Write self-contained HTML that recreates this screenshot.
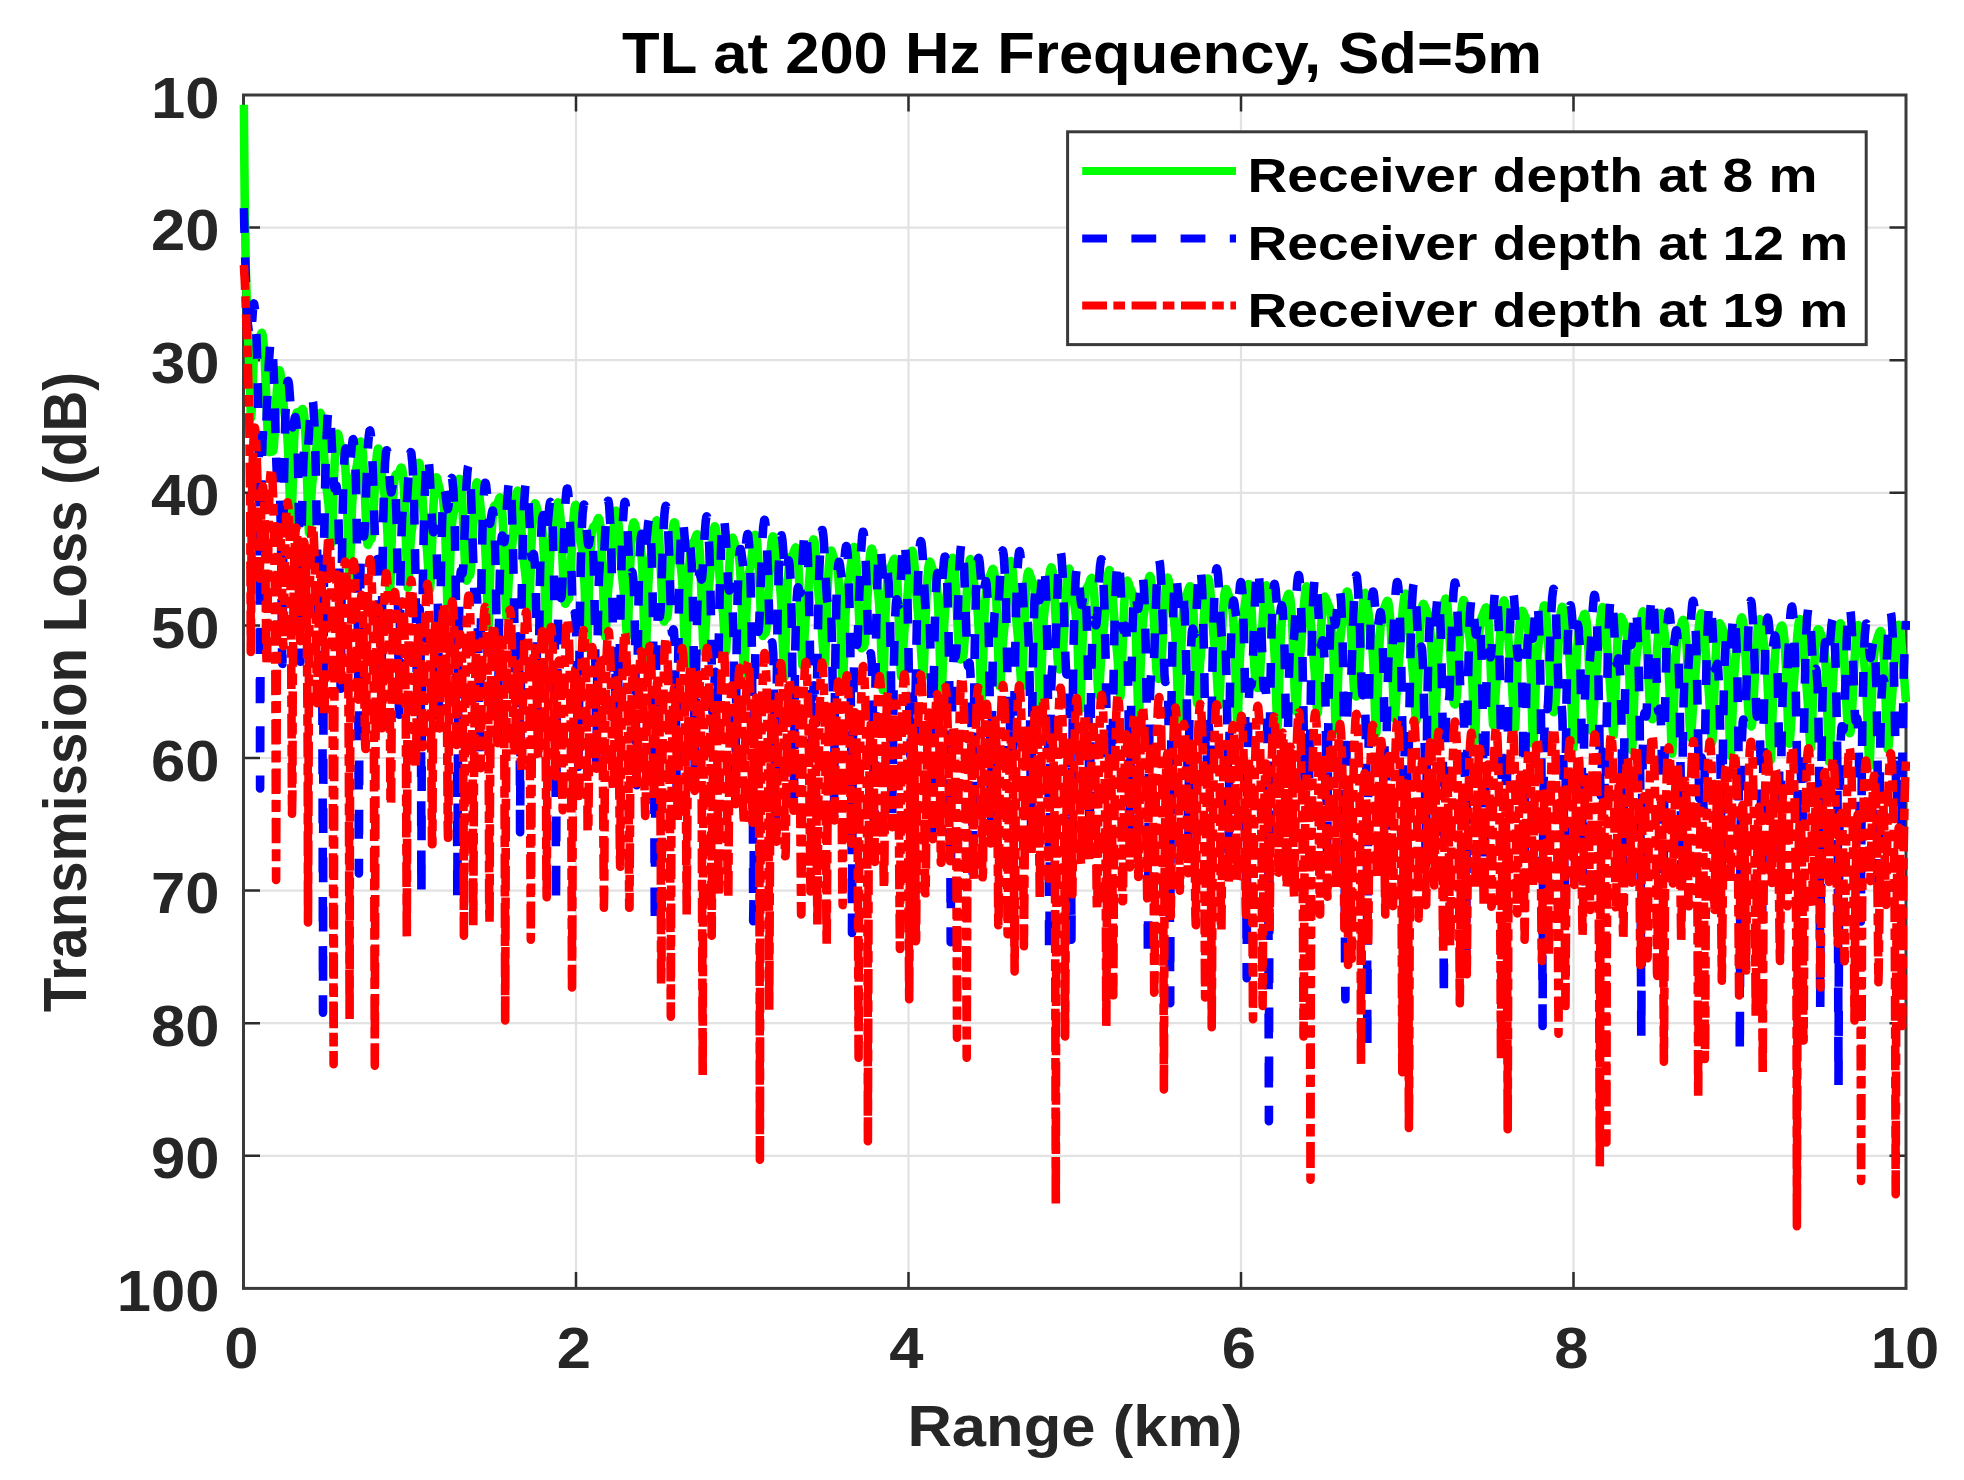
<!DOCTYPE html>
<html lang="en"><head><meta charset="utf-8"><title>TL at 200 Hz Frequency, Sd=5m</title>
<style>html,body{margin:0;padding:0;background:#fff}svg{display:block}</style></head>
<body>
<svg width="1964" height="1480" viewBox="0 0 1964 1480" font-family="'Liberation Sans', Arial, Helvetica, sans-serif" font-weight="bold">
<rect width="1964" height="1480" fill="#fff"/>
<path d="M576.00 95.0V1288.4M908.50 95.0V1288.4M1241.00 95.0V1288.4M1573.50 95.0V1288.4M243.5 227.60H1906.0M243.5 360.20H1906.0M243.5 492.80H1906.0M243.5 625.40H1906.0M243.5 758.00H1906.0M243.5 890.60H1906.0M243.5 1023.20H1906.0M243.5 1155.80H1906.0" stroke="#e2e2e2" stroke-width="2.2" fill="none"/>
<clipPath id="c"><rect x="239.3" y="95.0" width="1670.7" height="1193.4"/></clipPath>
<path d="M576.00 95.0v16.5M576.00 1288.4v-16.5M908.50 95.0v16.5M908.50 1288.4v-16.5M1241.00 95.0v16.5M1241.00 1288.4v-16.5M1573.50 95.0v16.5M1573.50 1288.4v-16.5M243.5 227.60h16.5M1906.0 227.60h-16.5M243.5 360.20h16.5M1906.0 360.20h-16.5M243.5 492.80h16.5M1906.0 492.80h-16.5M243.5 625.40h16.5M1906.0 625.40h-16.5M243.5 758.00h16.5M1906.0 758.00h-16.5M243.5 890.60h16.5M1906.0 890.60h-16.5M243.5 1023.20h16.5M1906.0 1023.20h-16.5M243.5 1155.80h16.5M1906.0 1155.80h-16.5" stroke="#2c2c2c" stroke-width="2.5" fill="none"/>
<rect x="243.5" y="95.0" width="1662.5" height="1193.4" fill="none" stroke="#3a3a3a" stroke-width="3"/>
<g clip-path="url(#c)" fill="none" stroke-width="8.6" stroke-linejoin="round">
<path stroke="#00ff00" d="M243.8 104.7L244.8 208.6L245.8 267.6L246.8 303.7L248.8 353.7L250.8 416.0L251.1 417.5L251.5 413.9L253.5 364.0L254.5 351.2L254.8 349.0L255.5 346.8L255.8 346.4L256.1 346.5L257.5 347.2L258.1 346.4L258.8 344.1L260.8 334.5L261.5 333.0L261.8 332.9L262.1 333.4L262.8 336.1L263.4 341.4L264.8 360.7L267.8 436.0L268.4 447.4L269.1 451.9L269.4 452.1L270.4 449.8L271.1 448.9L271.8 449.6L272.4 451.0L272.8 451.3L273.1 451.0L273.8 447.0L274.4 438.0L276.4 398.3L277.7 378.9L278.7 371.6L279.4 370.2L279.7 370.5L280.1 371.4L281.4 380.7L284.1 410.5L286.4 427.0L287.4 436.9L288.7 461.9L290.4 515.4L291.0 528.0L291.4 525.8L291.7 518.2L294.0 441.9L295.0 424.3L295.7 417.4L296.4 413.6L296.7 412.6L297.0 412.2L297.4 412.2L299.0 414.4L299.7 414.5L300.4 413.5L302.0 409.4L302.4 409.1L302.7 409.1L303.4 410.5L303.7 412.1L304.3 417.4L305.3 431.4L306.0 445.3L308.3 519.5L309.0 532.7L309.3 533.3L310.0 524.4L311.3 496.5L312.3 482.7L313.0 477.2L314.7 467.2L315.3 461.2L318.6 419.6L319.6 413.7L320.0 413.0L320.3 412.9L320.6 413.5L321.3 416.6L322.3 426.0L325.6 478.9L326.3 486.2L328.6 504.9L330.6 537.3L331.3 543.5L331.6 542.3L332.3 530.4L333.9 480.8L334.9 457.7L335.9 442.8L336.6 437.0L337.3 434.2L337.6 433.7L337.9 433.8L338.3 434.5L341.3 448.8L341.9 450.7L343.2 452.8L343.9 454.8L344.6 458.5L345.2 464.9L346.6 488.6L348.9 569.3L349.2 576.7L349.6 577.9L350.2 563.2L351.9 509.1L353.2 485.3L354.2 476.8L356.2 468.9L356.9 465.4L359.9 443.7L360.5 441.6L360.9 441.5L361.5 443.0L362.2 447.1L362.9 454.2L364.2 477.1L366.5 532.7L367.2 542.1L367.5 544.2L367.9 544.9L368.2 544.5L369.2 541.0L369.9 539.5L370.2 539.3L371.2 539.4L371.5 538.9L372.2 535.1L373.2 520.5L375.2 478.1L376.2 462.0L377.2 452.2L377.8 449.1L378.2 448.5L378.5 448.6L379.2 450.6L379.8 454.7L382.8 483.9L385.1 498.4L386.1 508.3L387.5 533.9L389.1 586.0L389.5 592.9L389.8 594.6L390.5 581.0L392.5 512.4L393.1 497.6L394.1 483.2L394.8 477.9L395.5 475.2L396.1 474.3L397.8 474.9L398.4 474.3L400.4 468.7L401.1 467.5L401.4 467.5L401.8 468.0L402.1 469.1L402.8 473.1L404.1 490.4L405.4 522.7L407.1 577.0L407.8 587.8L408.1 587.2L408.4 583.3L410.1 549.5L411.1 535.9L413.7 515.3L417.1 472.1L418.1 464.7L418.7 462.8L419.1 462.8L419.4 463.5L420.1 466.7L421.1 476.1L424.4 527.0L427.0 549.4L429.4 585.3L429.7 588.6L430.0 589.3L430.7 580.9L433.4 506.8L434.4 489.8L435.4 480.4L436.0 477.7L436.3 477.3L436.7 477.4L437.0 478.0L439.7 489.8L440.3 491.8L442.0 494.4L443.0 498.3L444.3 512.1L445.3 532.2L447.3 601.7L448.0 617.4L448.3 616.6L448.7 609.9L450.6 546.7L452.0 523.8L453.0 515.5L455.0 506.5L455.6 502.5L458.3 482.1L459.0 479.4L459.3 478.8L459.6 478.8L460.3 480.6L461.0 485.1L462.0 497.2L465.3 569.9L465.9 578.3L466.3 580.1L466.6 580.6L466.9 580.2L468.3 576.3L468.6 575.8L469.6 575.6L469.9 575.2L470.6 572.2L471.6 559.3L473.6 516.7L474.9 494.9L475.6 488.0L476.2 483.9L476.9 482.4L477.2 482.6L477.9 484.8L478.9 491.7L481.6 517.0L483.9 531.6L484.9 542.3L485.9 560.9L487.6 611.6L488.2 625.9L488.6 625.5L488.9 619.3L490.5 560.3L491.5 533.9L492.9 513.7L493.5 508.7L494.2 506.1L494.9 505.2L496.2 505.3L496.9 504.8L497.5 503.4L499.2 498.3L499.9 497.4L500.2 497.6L500.5 498.2L500.9 499.5L501.5 503.9L502.5 516.3L503.2 529.0L505.8 608.2L506.5 616.8L506.8 615.3L507.2 610.8L508.5 583.5L509.5 568.2L512.5 542.5L515.5 502.4L516.8 492.2L517.5 490.7L517.8 490.8L518.1 491.7L518.8 495.2L519.8 504.9L522.8 550.7L523.8 561.4L525.8 577.9L527.8 609.4L528.5 616.2L528.8 615.6L529.5 604.9L531.4 546.2L532.4 524.7L533.8 508.3L534.4 504.6L534.8 503.7L535.1 503.4L535.4 503.6L536.4 506.5L538.4 515.3L539.1 517.0L540.4 519.0L541.1 520.8L542.1 526.7L542.8 534.1L544.1 560.2L546.1 629.8L546.7 642.2L547.1 639.6L547.4 631.7L549.1 577.7L550.4 551.7L551.4 541.7L553.7 529.8L556.4 509.4L557.0 505.3L557.7 502.9L558.0 502.5L558.4 502.7L559.0 504.9L560.4 517.5L561.7 541.3L564.0 594.1L564.7 601.8L565.0 603.4L565.4 603.8L567.0 600.2L568.4 599.4L568.7 598.7L569.4 594.6L570.3 580.0L572.3 537.2L573.7 516.3L574.3 509.8L575.0 506.1L575.3 505.2L575.7 505.0L576.0 505.3L576.7 507.7L577.7 514.8L580.0 536.7L582.3 551.7L583.3 561.3L584.6 585.7L586.3 636.8L587.0 648.0L587.3 645.6L587.6 637.8L589.3 578.9L590.3 553.6L591.6 534.5L592.3 529.8L593.0 527.3L593.6 526.4L595.0 526.0L595.6 525.2L597.6 519.5L598.3 518.2L598.6 518.1L599.3 519.3L599.6 520.8L600.3 525.7L601.3 538.8L601.9 552.0L604.3 622.0L604.9 635.4L605.3 636.8L605.9 629.7L607.9 592.4L608.6 584.7L610.9 564.9L614.2 521.1L614.9 515.3L615.6 511.7L615.9 510.8L616.2 510.6L616.9 511.9L617.6 515.8L618.6 525.9L621.6 570.8L624.5 599.0L626.5 631.1L626.9 634.8L627.2 636.0L627.5 634.2L628.2 621.3L629.9 571.4L631.2 542.2L632.5 526.7L633.2 523.4L633.5 522.6L633.9 522.4L634.2 522.7L634.9 524.4L637.2 533.8L639.2 537.5L639.8 539.6L640.5 543.4L641.2 549.8L642.5 573.1L644.8 651.0L645.2 658.3L645.5 660.0L646.2 646.9L647.8 594.0L649.1 569.2L650.1 559.6L652.5 547.0L655.1 526.3L656.1 521.3L656.5 520.5L656.8 520.3L657.5 521.7L658.1 525.6L659.1 536.7L660.1 554.0L662.5 607.0L663.1 616.8L663.4 619.6L663.8 621.1L664.1 621.5L665.8 618.5L666.8 618.0L667.1 617.5L667.8 614.3L668.8 601.4L671.1 552.3L672.4 532.3L673.1 526.4L673.8 523.0L674.1 522.3L674.4 522.3L674.8 522.8L675.4 525.4L676.4 532.6L678.7 553.8L681.1 569.1L682.1 579.6L683.4 605.5L685.1 656.6L685.4 663.1L685.7 664.5L686.4 651.1L688.1 592.6L689.0 568.5L690.4 550.5L691.0 546.0L691.7 543.7L692.4 542.8L693.4 542.3L694.0 541.5L696.4 535.1L697.0 534.2L697.4 534.2L697.7 534.8L698.0 535.9L698.7 539.9L699.7 551.4L700.4 563.2L703.0 640.2L703.7 651.8L704.0 652.2L704.7 644.1L706.7 607.9L709.7 579.5L712.7 539.2L714.0 528.4L714.7 526.4L715.0 526.4L715.3 526.9L716.0 529.9L717.0 538.7L720.3 586.9L723.0 612.2L725.3 648.5L725.6 651.4L726.0 651.4L726.6 642.1L728.6 583.8L729.9 556.0L731.3 541.4L731.9 538.4L732.3 537.8L732.6 537.7L732.9 538.1L733.6 539.8L735.6 547.6L738.3 553.4L739.3 559.1L739.9 566.1L740.9 583.0L741.6 599.6L743.2 658.2L743.9 673.9L744.2 673.8L744.6 668.1L746.6 606.8L747.9 583.2L748.9 573.9L751.2 560.6L753.9 539.9L754.9 535.4L755.2 534.8L755.5 534.8L756.2 536.6L756.9 541.0L757.9 552.6L758.9 570.3L761.2 622.4L761.9 631.7L762.2 634.2L762.5 635.5L762.9 635.9L764.2 634.0L765.5 633.0L766.2 630.6L766.5 628.0L767.5 613.5L769.5 570.7L770.8 549.1L771.5 542.3L772.5 536.9L772.8 536.4L773.2 536.5L774.2 539.9L777.5 567.9L779.8 583.7L780.8 595.1L781.8 614.1L783.5 664.2L784.1 677.9L784.5 677.4L784.8 671.4L786.5 613.6L787.8 580.7L789.1 563.6L789.8 559.4L790.5 557.2L792.8 554.5L794.8 548.9L795.5 547.6L795.8 547.4L796.4 548.4L796.8 549.7L797.4 554.2L798.4 566.5L799.1 578.8L801.8 655.4L802.4 665.2L802.8 664.8L803.1 661.4L805.4 620.7L808.4 591.3L811.4 551.0L812.7 541.0L813.4 539.5L813.7 539.6L814.1 540.4L814.7 543.6L815.7 552.8L818.7 596.3L821.7 626.8L823.7 659.1L824.4 665.1L824.7 663.9L825.4 652.4L827.4 594.0L828.7 567.4L830.0 553.8L830.7 551.1L831.0 550.6L831.4 550.6L831.7 551.0L834.4 560.1L836.3 564.1L837.0 566.2L837.7 569.9L838.3 575.9L839.3 591.0L840.0 606.1L842.0 673.8L842.7 686.7L843.0 684.8L843.3 677.9L845.3 617.5L846.7 595.0L847.7 585.9L850.0 571.9L852.3 553.4L853.3 548.2L854.0 547.0L854.3 547.2L854.6 548.0L855.3 551.5L856.3 561.6L857.6 584.5L860.0 635.7L860.6 644.3L861.0 646.7L861.3 647.9L861.6 648.3L863.9 646.4L864.6 644.5L864.9 642.5L865.9 629.7L868.3 580.6L869.6 560.0L870.3 553.6L870.9 549.8L871.6 548.5L871.9 548.7L872.6 550.7L873.6 557.1L875.9 577.5L878.2 593.5L879.2 603.8L880.6 628.8L882.2 679.3L882.9 690.2L883.2 687.8L883.6 680.3L885.2 622.5L886.2 597.2L887.2 581.3L887.9 574.8L888.5 570.9L889.5 568.2L890.9 566.7L891.5 565.5L893.5 559.9L894.2 558.9L894.5 558.9L894.9 559.3L895.2 560.3L895.9 564.0L896.9 574.6L897.9 592.6L900.2 660.3L900.9 674.3L901.2 676.6L901.5 675.4L901.9 671.6L904.2 631.8L906.8 605.3L909.8 564.7L911.2 553.5L911.8 551.1L912.2 550.8L912.5 551.2L913.2 553.6L914.5 565.2L917.5 608.2L920.1 635.6L922.5 672.5L922.8 675.9L923.1 676.6L923.5 674.2L924.1 660.7L926.5 595.0L927.5 577.2L928.5 566.6L929.4 562.1L929.8 561.7L930.1 561.8L930.4 562.3L932.8 570.0L935.1 575.0L935.8 577.4L936.4 581.5L937.1 588.1L938.1 604.2L939.1 629.5L940.8 687.6L941.1 695.1L941.4 697.3L942.1 686.0L944.1 626.8L945.4 605.2L946.4 596.4L948.4 584.0L951.1 563.3L952.1 558.5L952.4 557.9L952.7 557.7L953.4 559.1L954.1 563.0L955.0 573.7L956.0 590.4L958.7 647.4L959.4 655.5L959.7 657.7L960.4 659.4L960.7 659.3L962.4 658.2L962.7 657.8L963.4 655.3L963.7 652.7L964.7 638.3L967.0 589.1L968.4 569.4L969.0 563.5L969.7 560.1L970.0 559.3L970.3 559.1L970.7 559.5L971.3 561.8L972.3 568.3L974.7 588.2L976.7 601.9L978.0 615.8L979.3 642.3L981.0 692.8L981.3 699.1L981.7 700.4L982.3 687.5L984.6 612.9L986.0 590.9L986.6 584.7L987.3 581.0L988.0 578.9L990.3 575.2L992.0 570.3L992.6 569.1L993.0 568.9L993.3 569.0L993.6 569.7L994.6 575.0L995.6 586.4L996.3 598.0L998.9 672.7L999.6 685.1L999.9 686.5L1000.6 680.5L1002.6 645.8L1005.6 614.0L1008.6 573.5L1009.9 563.0L1010.6 561.1L1010.9 561.0L1011.2 561.5L1011.9 564.3L1013.2 576.4L1016.2 618.9L1018.9 647.2L1020.9 680.0L1021.5 686.9L1021.9 686.5L1022.5 676.4L1025.2 602.8L1026.2 585.9L1027.2 576.0L1028.2 572.0L1028.5 571.7L1029.2 572.3L1031.5 579.6L1033.9 584.8L1034.5 587.5L1035.8 599.3L1036.8 616.3L1037.8 642.6L1039.5 699.8L1039.8 705.8L1040.2 706.4L1040.8 692.9L1042.5 642.5L1043.8 618.3L1044.8 608.1L1047.2 592.7L1049.5 574.2L1050.5 568.8L1051.1 567.3L1051.5 567.4L1051.8 568.0L1052.5 571.0L1053.5 580.4L1054.8 601.8L1057.5 657.9L1058.5 667.7L1058.8 668.9L1059.5 669.5L1060.8 669.0L1061.5 668.0L1062.4 661.5L1063.4 645.7L1065.8 596.6L1067.4 574.8L1068.1 570.6L1068.8 568.8L1069.1 568.7L1069.4 569.3L1070.1 571.7L1075.4 611.8L1076.4 622.2L1077.7 646.3L1079.4 696.2L1080.1 709.5L1080.4 709.1L1080.7 703.2L1082.4 646.7L1083.4 620.4L1084.4 603.4L1085.7 591.6L1086.7 588.0L1088.7 584.6L1090.7 579.0L1091.4 578.0L1091.7 577.9L1092.0 578.3L1092.4 579.2L1093.4 585.1L1094.4 597.3L1095.0 609.4L1097.7 683.9L1098.4 694.7L1098.7 695.3L1099.4 688.4L1101.3 654.5L1104.0 625.9L1107.0 585.0L1108.3 573.3L1109.0 570.6L1109.3 570.1L1109.7 570.3L1110.3 572.2L1111.7 582.7L1115.0 628.6L1117.6 658.0L1119.6 691.4L1120.3 696.6L1120.6 695.0L1121.3 682.8L1124.0 609.8L1124.6 598.3L1125.6 586.9L1126.6 581.6L1127.0 580.9L1127.3 580.7L1127.6 580.9L1128.3 582.2L1130.3 588.4L1132.3 592.7L1132.9 595.1L1134.3 605.4L1135.6 627.6L1137.9 701.9L1138.6 715.2L1138.9 714.1L1139.3 708.1L1141.2 649.6L1142.6 626.4L1143.6 616.4L1145.6 602.8L1148.2 582.0L1149.2 577.1L1149.9 576.0L1150.6 577.1L1151.2 580.5L1152.2 590.4L1153.6 612.4L1156.2 667.6L1157.2 676.9L1157.5 678.1L1158.2 678.9L1159.5 678.6L1160.2 677.2L1161.2 669.3L1164.2 609.3L1165.9 585.6L1166.5 580.5L1167.2 577.9L1167.5 577.5L1167.8 577.6L1168.8 580.9L1173.8 618.3L1175.2 632.2L1176.5 657.8L1178.2 708.0L1178.8 718.6L1179.2 716.3L1179.5 709.1L1181.2 652.3L1182.1 627.2L1183.1 611.0L1184.5 599.8L1185.5 596.3L1187.1 593.2L1189.1 587.7L1189.8 586.4L1190.1 586.2L1190.5 586.3L1190.8 586.8L1191.8 591.7L1192.8 602.4L1193.5 613.3L1194.5 636.0L1196.4 694.1L1197.1 703.3L1197.4 703.2L1198.1 695.6L1200.1 662.5L1202.8 632.9L1205.4 595.9L1206.8 583.0L1207.4 579.7L1208.1 578.5L1208.4 578.8L1209.1 581.1L1210.4 592.1L1213.4 633.4L1216.1 663.5L1218.4 701.8L1218.7 704.8L1219.1 705.2L1219.4 702.4L1220.1 688.3L1222.4 623.0L1223.4 605.3L1224.4 594.6L1225.4 589.7L1225.7 589.1L1226.0 589.0L1226.4 589.3L1227.0 590.6L1229.0 596.4L1230.7 599.9L1231.7 603.5L1233.0 614.8L1234.0 631.0L1235.0 656.0L1236.7 712.9L1237.0 720.5L1237.3 723.4L1237.7 720.8L1238.0 713.8L1240.0 656.1L1241.3 633.8L1242.3 624.1L1246.7 591.4L1247.7 585.8L1248.3 584.2L1248.6 584.1L1249.3 585.5L1250.0 589.4L1251.3 604.5L1254.3 665.5L1255.3 680.5L1256.0 685.4L1256.6 687.3L1257.3 687.9L1258.0 687.9L1258.3 687.6L1259.0 685.6L1260.0 676.2L1262.9 615.3L1264.6 592.7L1265.3 588.0L1265.9 585.8L1266.3 585.5L1266.6 585.8L1267.6 589.3L1272.6 626.8L1273.6 637.1L1274.9 660.5L1276.9 718.9L1277.2 725.1L1277.6 726.4L1278.2 714.0L1280.6 640.4L1281.9 618.0L1283.2 607.4L1284.2 603.9L1285.9 600.5L1287.9 594.9L1288.5 593.9L1288.9 593.8L1289.2 594.1L1289.5 594.8L1290.5 600.3L1291.5 611.7L1292.2 623.1L1294.9 695.7L1295.5 708.9L1295.9 711.2L1296.2 710.5L1296.5 707.2L1298.5 674.3L1301.2 643.5L1304.2 602.2L1305.5 590.1L1306.2 587.1L1306.5 586.4L1306.8 586.3L1307.5 587.8L1308.2 591.5L1309.5 604.8L1312.2 641.9L1314.8 672.9L1316.8 707.1L1317.5 713.5L1317.8 712.7L1318.5 701.9L1321.1 628.6L1321.8 616.5L1322.8 604.4L1323.8 598.2L1324.1 597.3L1324.5 596.8L1324.8 596.7L1325.8 598.3L1327.5 603.0L1329.4 607.4L1330.1 609.8L1331.4 619.7L1332.8 640.8L1333.8 666.8L1335.4 723.0L1335.8 729.3L1336.1 730.6L1336.8 718.8L1338.4 669.7L1339.8 644.8L1341.1 631.1L1345.1 600.3L1346.1 594.2L1346.7 591.9L1347.1 591.5L1347.4 591.6L1347.7 592.3L1348.4 595.3L1349.7 608.7L1351.1 631.6L1353.1 674.3L1354.0 688.8L1355.0 694.8L1355.7 696.0L1356.4 696.4L1357.0 695.9L1357.4 695.0L1358.4 687.1L1361.7 620.9L1363.0 602.4L1363.7 596.9L1364.4 593.8L1364.7 593.2L1365.0 593.0L1365.4 593.4L1366.0 595.6L1367.0 601.6L1371.0 632.0L1372.3 645.8L1373.7 670.7L1375.3 720.4L1376.0 733.6L1376.3 733.2L1376.7 727.6L1378.7 662.3L1379.7 639.2L1380.7 624.5L1382.0 614.4L1382.6 611.9L1384.6 607.2L1386.3 602.5L1387.3 600.9L1387.6 601.0L1388.0 601.4L1388.3 602.4L1389.3 608.5L1390.3 620.6L1391.0 632.5L1393.6 705.1L1394.3 716.9L1394.6 718.5L1394.9 717.1L1395.3 713.5L1397.3 681.0L1399.9 649.4L1402.9 608.1L1404.3 596.7L1404.9 594.1L1405.3 593.6L1405.6 593.7L1405.9 594.3L1406.6 597.2L1407.9 609.1L1410.9 649.8L1413.2 677.3L1415.6 716.6L1415.9 720.2L1416.2 721.3L1416.6 719.3L1417.2 706.5L1419.9 633.8L1420.5 622.4L1421.5 610.8L1422.5 605.2L1422.9 604.3L1423.2 603.9L1423.5 603.9L1424.2 604.8L1427.9 613.6L1428.9 617.2L1430.2 628.0L1431.5 650.3L1433.8 723.3L1434.5 737.1L1434.8 736.9L1435.2 731.8L1437.2 675.0L1438.8 647.0L1439.8 637.5L1443.8 606.3L1444.8 600.6L1445.5 598.7L1445.8 598.5L1446.5 599.6L1447.2 603.0L1448.5 617.1L1452.5 692.9L1453.5 701.3L1454.1 703.4L1454.5 704.0L1455.1 704.4L1455.8 703.6L1456.1 702.4L1457.1 693.1L1460.1 631.9L1461.4 611.9L1462.1 605.6L1463.1 600.7L1463.4 600.1L1463.8 600.2L1464.8 603.0L1465.8 609.1L1469.8 639.5L1471.1 654.3L1472.1 672.6L1474.1 730.6L1474.7 741.1L1475.1 739.0L1475.4 732.0L1477.1 676.2L1478.1 651.0L1479.4 630.7L1480.7 621.0L1481.7 617.6L1485.1 608.8L1485.7 607.7L1486.1 607.5L1486.4 607.8L1486.7 608.4L1487.7 613.5L1488.7 624.1L1489.7 641.4L1492.4 713.9L1493.0 724.3L1493.4 725.2L1494.0 719.5L1496.0 687.3L1498.4 659.2L1501.3 617.4L1502.7 604.9L1503.3 601.6L1504.0 600.4L1504.7 601.5L1505.3 604.7L1506.7 616.9L1512.0 685.7L1514.0 720.7L1514.6 728.3L1515.0 728.3L1515.6 718.9L1517.6 661.3L1518.6 638.8L1519.3 627.8L1520.3 617.0L1521.3 611.7L1521.6 611.0L1522.0 610.7L1522.3 610.7L1523.0 611.6L1526.3 619.3L1527.3 622.6L1528.6 632.1L1529.9 652.2L1530.9 677.0L1532.6 732.8L1533.3 744.1L1533.6 742.5L1533.9 736.3L1535.9 680.0L1537.3 657.0L1538.6 643.6L1542.6 612.0L1543.6 606.7L1544.2 605.2L1544.6 605.2L1545.2 606.7L1545.9 610.5L1547.2 625.2L1551.2 700.4L1552.2 708.7L1552.9 711.0L1553.5 712.0L1553.9 712.1L1554.2 711.8L1554.9 709.3L1555.9 698.4L1558.9 636.6L1560.2 617.4L1560.9 611.5L1561.9 607.1L1562.2 606.8L1562.5 606.9L1563.5 610.0L1568.2 643.9L1569.5 657.7L1570.8 681.8L1572.8 740.1L1573.2 746.2L1573.5 747.7L1574.2 735.7L1575.8 680.1L1576.8 655.9L1578.2 636.5L1579.5 627.2L1580.5 623.7L1584.1 614.2L1584.8 613.9L1585.5 615.1L1586.5 620.8L1587.5 632.1L1588.5 650.1L1591.1 722.1L1591.8 731.2L1592.1 731.4L1592.8 725.0L1594.8 693.3L1597.1 664.4L1600.1 622.5L1601.4 610.7L1602.1 607.7L1602.4 607.1L1602.8 607.0L1603.4 608.3L1604.1 611.8L1605.4 624.4L1610.4 689.1L1612.7 729.6L1613.4 735.6L1613.7 734.5L1614.4 723.0L1617.1 649.9L1617.7 637.9L1618.7 625.6L1619.7 619.1L1620.4 617.3L1620.7 617.1L1621.0 617.2L1621.7 618.1L1624.7 624.8L1626.0 629.2L1627.4 639.6L1628.7 660.8L1629.7 686.5L1631.4 741.8L1631.7 748.4L1632.0 750.4L1632.7 740.4L1634.7 684.8L1636.0 662.5L1637.0 652.1L1641.0 619.7L1642.0 613.8L1642.7 611.8L1643.0 611.4L1643.3 611.5L1643.7 612.2L1644.3 615.2L1645.7 628.2L1650.0 707.7L1651.0 715.8L1651.6 718.3L1652.3 719.3L1652.6 719.3L1653.0 718.8L1653.3 717.7L1654.3 708.5L1657.3 647.0L1659.0 622.7L1659.6 617.2L1660.6 613.3L1660.9 613.1L1661.3 613.4L1662.3 616.8L1666.6 648.0L1668.3 665.3L1669.6 690.8L1671.3 740.5L1671.9 753.6L1672.3 753.4L1672.6 748.1L1674.6 683.8L1675.6 660.6L1676.9 642.0L1678.2 633.0L1681.9 622.0L1682.9 620.0L1683.2 619.8L1683.6 620.0L1684.2 621.6L1685.2 627.9L1686.2 639.8L1686.9 651.5L1689.5 722.5L1690.2 735.2L1690.5 737.6L1690.9 737.3L1691.5 730.3L1693.2 703.6L1698.5 631.2L1699.8 618.3L1700.5 614.7L1701.2 613.2L1701.5 613.2L1701.8 613.8L1702.5 616.5L1704.2 631.6L1709.2 696.9L1711.5 738.0L1711.8 741.4L1712.2 742.3L1712.5 739.9L1713.2 726.6L1715.5 661.0L1716.5 642.6L1717.5 631.0L1718.5 624.9L1719.1 623.4L1719.5 623.2L1719.8 623.3L1720.8 624.9L1723.5 630.7L1724.5 634.0L1725.8 643.2L1727.1 662.3L1728.1 685.9L1730.1 750.1L1730.4 755.5L1730.8 756.0L1731.4 744.1L1733.4 689.4L1734.8 667.8L1735.8 657.5L1739.4 627.1L1740.7 619.3L1741.4 617.5L1741.7 617.4L1742.4 618.6L1743.1 621.9L1744.4 635.6L1745.7 658.1L1747.7 699.4L1748.7 714.6L1749.7 722.8L1750.4 725.4L1751.1 726.4L1751.4 726.3L1751.7 725.5L1752.1 724.0L1753.0 713.3L1756.0 651.0L1757.7 627.8L1758.4 622.7L1758.7 621.0L1759.4 619.3L1759.7 619.2L1760.0 619.6L1761.0 623.2L1765.4 654.4L1767.0 672.8L1768.3 699.6L1770.0 749.7L1770.7 760.3L1771.0 758.4L1771.3 751.7L1773.7 678.9L1775.0 654.7L1776.0 644.5L1777.0 638.6L1780.3 628.2L1781.0 626.5L1781.6 625.6L1782.0 625.6L1782.3 625.9L1782.6 626.6L1783.3 629.6L1784.3 638.2L1785.0 647.4L1786.3 674.6L1788.3 730.4L1789.0 741.9L1789.3 743.7L1789.6 742.9L1790.3 735.4L1792.0 708.9L1797.3 635.7L1798.6 623.4L1799.3 620.2L1799.9 619.0L1800.6 620.0L1801.3 623.0L1802.9 638.4L1807.6 699.6L1809.9 741.2L1810.6 748.5L1810.9 748.2L1811.6 738.3L1813.6 680.6L1814.9 652.3L1816.2 636.1L1816.9 631.9L1817.2 630.5L1817.9 629.2L1818.6 629.2L1819.2 630.1L1822.5 637.4L1823.5 641.8L1824.5 650.0L1825.5 664.0L1826.2 677.4L1828.5 749.8L1829.2 761.9L1829.5 761.1L1829.9 755.8L1831.9 700.9L1833.5 672.8L1834.8 659.6L1838.2 631.9L1839.2 625.9L1840.2 623.2L1840.5 623.2L1840.8 623.7L1841.5 626.3L1842.5 634.4L1843.8 653.2L1847.1 717.2L1847.8 724.8L1848.5 729.6L1849.1 732.2L1849.8 733.2L1850.1 732.9L1850.5 731.8L1850.8 729.9L1851.5 722.9L1854.5 661.0L1856.1 635.9L1856.8 630.0L1857.8 625.5L1858.1 625.0L1858.5 625.1L1858.8 625.6L1859.8 629.3L1863.8 657.9L1865.4 675.2L1866.8 699.9L1868.8 758.3L1869.1 764.5L1869.4 766.1L1870.1 754.7L1872.1 690.7L1873.7 659.5L1874.7 649.6L1875.7 643.9L1878.4 635.2L1879.7 631.7L1880.4 631.0L1880.7 631.1L1881.4 632.5L1881.7 633.9L1882.7 641.4L1883.4 649.6L1884.7 674.6L1887.0 738.0L1887.7 748.3L1888.0 749.5L1888.7 744.9L1895.7 644.0L1897.0 630.6L1898.0 625.5L1898.4 624.9L1898.7 624.7L1899.3 626.0L1900.7 634.4L1902.0 649.2L1906.0 702.0"/>
<path stroke="#0000ff" stroke-dasharray="24.8 24.4" d="M243.8 208.1L246.2 292.1L246.8 308.2L247.8 323.5L249.2 334.7L249.8 337.8L250.2 338.4L250.5 338.1L251.5 330.6L253.1 307.6L253.8 303.4L254.1 303.7L255.1 310.1L255.8 319.5L257.1 354.1L258.1 400.5L259.1 484.6L259.8 614.5L260.1 788.5L260.8 549.9L261.8 463.7L262.5 440.8L263.1 430.4L263.4 428.5L263.8 428.2L265.1 434.7L265.4 434.9L266.1 429.2L268.8 364.0L270.1 345.0L270.8 341.4L271.1 340.9L271.4 341.5L272.1 345.4L272.8 353.3L274.1 381.5L276.4 463.7L277.1 479.8L277.4 483.3L277.7 484.1L278.7 481.3L279.1 481.7L279.7 488.4L280.1 495.6L281.1 541.9L282.1 657.2L282.4 663.9L283.4 530.9L284.1 475.7L285.4 415.7L286.1 398.9L287.1 384.6L287.4 382.3L287.7 381.0L288.1 380.8L288.4 381.5L289.1 385.6L291.4 417.7L292.4 426.8L292.7 427.4L293.0 426.9L294.7 418.0L295.0 417.1L295.4 417.0L296.0 419.6L296.4 422.7L297.0 432.9L298.0 461.5L299.0 515.3L300.4 661.7L301.7 529.2L302.4 491.7L303.4 461.2L304.0 451.4L304.7 447.7L305.0 447.6L305.3 448.5L306.7 455.3L307.0 456.0L307.3 455.6L307.7 453.7L311.0 404.3L311.7 399.9L312.0 399.0L312.3 399.1L313.0 402.1L313.3 405.2L314.7 429.1L316.0 476.9L318.3 630.8L318.6 624.7L319.6 578.0L320.3 561.7L320.6 558.7L321.0 558.9L322.0 575.3L322.6 779.8L323.0 1012.6L323.3 771.6L324.0 546.9L325.3 477.6L326.3 443.4L327.6 417.4L328.3 411.3L328.6 409.9L329.0 409.4L329.3 409.8L329.9 413.6L330.9 426.0L333.3 474.9L333.9 484.8L334.6 488.6L334.9 488.5L335.9 485.7L336.3 485.5L336.6 486.1L337.3 491.1L337.9 502.8L338.6 523.7L339.3 558.8L340.6 688.8L340.9 684.3L341.6 588.3L342.3 533.0L343.2 485.8L344.2 460.8L344.9 452.2L345.2 449.8L345.6 448.6L345.9 448.4L346.2 449.2L346.9 453.1L348.6 467.4L348.9 468.8L349.2 469.0L349.9 465.9L351.6 447.8L352.6 440.3L352.9 439.3L353.2 439.2L353.6 440.2L354.6 449.5L355.6 470.6L356.2 493.4L357.5 577.1L358.2 673.1L358.9 873.4L359.5 650.1L360.5 568.0L361.2 545.9L361.9 535.5L362.2 533.4L362.5 532.9L363.5 536.0L363.9 536.4L364.2 535.3L364.5 532.0L365.2 518.7L367.2 462.5L368.2 443.1L368.9 435.1L369.5 431.0L369.9 430.4L370.2 430.7L370.8 434.3L371.5 441.8L372.8 469.4L375.5 556.2L376.2 563.1L376.5 562.7L377.5 559.0L377.8 559.7L378.5 567.3L378.8 575.2L379.8 626.0L380.8 733.4L381.2 728.6L382.2 593.6L383.1 523.3L384.5 475.2L385.1 462.0L385.8 453.9L386.1 451.7L386.5 450.4L386.8 450.2L387.1 451.0L387.8 455.1L390.1 485.5L390.8 491.3L391.1 492.4L391.5 492.3L393.5 480.9L393.8 480.0L394.1 479.9L394.8 482.9L395.1 486.2L395.8 496.9L396.8 526.9L397.4 560.6L398.1 614.0L398.8 700.6L399.1 714.6L400.4 581.3L401.1 546.3L402.1 517.6L402.8 508.6L403.4 505.4L403.8 505.4L404.1 506.3L405.4 512.2L405.8 512.3L406.1 511.2L406.8 504.6L409.4 460.4L410.4 452.8L410.7 452.1L411.1 452.3L411.4 453.5L412.4 463.5L413.1 475.9L414.4 518.2L415.4 572.0L416.7 672.5L417.1 678.7L418.4 623.7L419.1 610.0L419.4 608.1L419.7 609.4L420.4 619.9L421.1 750.4L421.4 894.6L421.7 752.1L422.4 608.8L423.7 535.0L424.7 497.0L426.0 467.2L426.7 459.5L427.0 457.2L427.4 455.9L427.7 455.7L428.4 458.0L429.4 468.3L432.0 521.3L432.7 529.9L433.0 531.8L433.4 532.3L434.7 528.7L435.0 528.6L435.4 529.5L436.0 535.3L436.7 548.1L437.7 587.1L439.0 713.7L439.3 717.9L439.7 708.5L440.3 619.5L441.0 568.4L442.0 524.0L443.0 500.6L443.7 492.7L444.0 490.6L444.3 489.7L444.7 489.8L445.3 492.5L447.0 506.4L447.7 509.1L448.0 508.8L448.7 504.6L450.6 482.6L451.3 478.6L451.6 477.9L452.0 478.1L452.3 479.3L453.3 489.5L454.3 511.9L455.0 536.0L456.3 625.8L457.0 742.2L457.3 898.6L458.3 671.3L459.3 601.2L460.0 581.3L460.6 572.3L461.0 570.8L461.3 570.6L462.3 573.7L462.6 573.6L463.3 567.3L466.3 488.4L467.3 472.8L467.9 467.2L468.3 465.9L468.6 465.6L469.3 467.7L469.9 473.8L470.9 490.6L474.3 591.4L474.6 595.1L474.9 596.0L475.9 592.2L476.2 591.9L476.9 596.5L477.2 602.4L478.2 642.5L479.6 758.6L479.9 742.7L480.6 651.2L481.6 568.3L482.9 513.7L483.6 498.4L484.6 485.6L485.2 482.7L485.6 482.8L486.2 485.7L487.2 495.9L488.9 518.4L489.6 523.2L489.9 523.8L490.2 523.2L491.9 512.6L492.5 510.5L492.9 510.7L493.2 511.9L493.5 514.3L494.2 523.1L495.2 548.7L495.9 577.8L496.5 623.1L497.5 739.3L497.9 739.4L499.2 605.0L499.9 572.5L500.5 552.6L501.2 541.2L501.9 536.2L502.2 535.5L502.5 535.8L504.2 542.2L504.5 541.8L504.8 540.0L505.5 532.3L507.2 502.0L508.2 487.8L509.2 481.0L509.5 480.6L509.8 481.1L510.2 482.7L510.8 488.8L511.5 499.5L512.8 537.4L513.8 585.8L515.5 702.4L515.8 702.4L516.8 658.8L517.5 640.7L517.8 636.9L518.1 636.2L518.5 638.6L519.1 651.1L519.8 740.4L520.1 832.3L521.1 630.3L522.1 573.0L523.1 531.3L524.1 504.1L525.1 488.4L525.5 485.5L526.1 482.6L526.5 482.6L527.1 485.5L528.5 502.0L531.1 553.6L531.8 557.7L532.1 557.6L533.4 553.8L533.8 554.0L534.4 557.9L535.1 568.1L535.8 586.8L536.4 618.5L537.4 716.0L537.8 736.8L538.1 737.1L539.8 587.6L540.4 557.2L541.4 529.9L542.1 520.2L542.4 517.3L543.1 515.0L543.4 515.4L544.1 518.6L545.7 532.1L546.1 533.6L546.4 533.9L546.7 533.1L547.4 528.0L549.4 505.9L550.1 502.4L550.4 501.9L550.7 502.4L551.1 503.9L552.1 515.3L553.1 539.2L554.1 581.7L554.7 628.0L555.4 708.7L556.0 905.2L556.7 726.9L557.4 655.8L558.0 621.3L558.7 603.5L559.4 596.0L559.7 595.0L560.0 595.3L561.0 598.2L561.4 597.4L561.7 594.5L562.4 581.8L564.7 516.2L565.7 498.5L566.7 489.6L567.0 488.6L567.4 488.5L568.0 491.3L568.7 498.1L569.4 508.9L570.7 543.2L572.3 600.5L573.0 614.5L573.3 617.1L573.7 617.2L574.7 613.3L575.0 613.5L575.7 619.6L576.0 626.5L577.0 671.6L577.7 744.1L578.3 766.6L578.7 747.8L579.7 629.1L580.7 567.7L582.0 524.8L582.6 513.3L583.6 505.1L584.0 504.5L584.3 504.9L585.3 511.3L587.3 537.5L588.0 543.5L588.3 544.8L588.6 544.8L589.0 543.8L590.6 532.9L591.0 531.7L591.3 531.2L591.6 531.7L592.0 533.3L592.3 536.1L593.0 545.8L594.0 573.4L595.0 626.0L596.3 765.3L596.6 753.4L597.3 669.8L597.9 619.9L598.9 579.4L599.9 561.2L600.3 558.5L600.6 557.0L600.9 556.7L601.3 557.3L602.6 562.9L602.9 563.2L603.3 562.2L604.3 551.0L605.9 520.2L606.9 506.8L607.6 501.9L607.9 500.8L608.3 500.7L608.9 503.4L609.2 506.3L610.6 529.4L611.6 561.7L612.6 612.3L613.9 710.4L614.2 721.9L614.6 716.8L615.6 674.0L615.9 664.7L616.6 656.2L616.9 656.7L617.2 660.2L618.6 690.3L618.9 690.2L619.6 663.9L620.9 587.1L622.2 537.0L622.9 521.2L623.9 506.7L624.5 502.4L624.9 501.8L625.2 502.1L625.5 503.4L626.2 508.7L626.9 517.6L629.2 564.3L629.9 573.3L630.2 575.4L630.5 576.1L630.9 575.7L631.9 572.3L632.2 571.9L632.5 572.5L633.2 577.3L633.9 588.7L634.5 609.1L635.2 643.5L636.5 785.2L636.8 772.1L637.5 676.0L638.2 620.0L638.8 584.9L639.8 553.3L640.8 537.8L641.2 535.4L641.5 534.1L641.8 533.8L642.2 534.4L642.8 538.1L644.5 551.2L644.8 552.2L645.2 552.1L645.8 548.2L648.2 522.9L648.8 519.9L649.1 519.7L649.5 520.6L650.5 529.6L651.5 550.4L652.5 587.7L653.1 627.8L654.1 746.7L654.8 926.4L655.5 729.3L656.1 666.9L656.8 635.9L657.8 616.1L658.1 614.0L658.5 613.5L659.5 616.4L659.8 616.6L660.5 611.3L663.4 531.1L664.4 514.4L665.1 508.1L665.8 505.8L666.1 506.0L666.4 507.3L667.1 512.7L668.1 528.3L669.1 553.5L671.4 627.4L671.8 631.7L672.1 633.3L672.4 632.8L673.1 629.9L673.4 629.3L673.8 630.1L674.4 637.8L674.8 645.7L675.8 696.3L676.4 773.1L676.7 789.5L677.1 785.6L677.4 762.9L678.1 666.6L679.1 595.3L679.7 566.7L680.7 539.4L681.4 528.7L681.7 525.3L682.4 521.7L682.7 521.4L683.1 522.1L683.7 526.1L686.1 555.3L686.7 560.4L687.1 561.2L687.4 560.8L689.4 548.4L689.7 547.4L690.0 547.2L690.7 550.1L691.0 553.3L691.7 563.9L692.7 593.6L693.4 626.9L694.0 679.7L694.7 766.5L695.0 783.1L696.0 676.5L696.7 630.6L697.7 593.2L698.7 576.8L699.0 574.5L699.4 573.4L699.7 573.5L701.4 579.6L701.7 579.4L702.0 577.8L702.7 570.5L704.7 534.1L705.7 521.4L706.3 517.1L706.7 516.3L707.0 516.5L707.7 519.9L708.0 523.1L709.3 547.9L710.3 581.8L711.3 634.7L712.7 729.6L713.0 735.2L714.3 685.7L715.0 673.1L715.3 671.8L715.6 673.5L717.0 703.4L717.3 708.5L717.6 705.3L719.6 597.3L721.0 549.4L721.6 534.4L722.6 521.0L723.3 517.4L723.6 517.1L724.3 519.4L725.6 534.7L728.3 585.7L728.6 588.8L729.0 590.4L729.3 590.6L730.6 586.5L730.9 586.4L731.3 587.3L731.9 593.0L732.6 605.7L733.3 628.0L733.9 665.3L735.3 805.5L736.6 650.9L737.6 595.5L738.6 566.1L739.3 555.3L739.6 552.0L740.3 549.0L740.6 549.0L741.3 551.7L743.2 566.5L743.6 567.1L743.9 566.4L744.6 561.7L746.2 542.0L746.9 536.4L747.6 534.0L747.9 534.2L748.2 535.3L749.2 545.5L750.2 567.8L751.2 607.5L751.9 650.4L752.9 785.3L753.2 921.1L753.6 892.8L754.2 730.5L755.2 659.2L755.9 639.2L756.5 630.3L756.9 628.8L757.2 628.8L758.2 631.8L758.5 631.4L759.2 624.3L762.2 542.9L763.2 527.1L764.2 520.2L764.5 519.8L764.9 520.4L765.5 524.5L766.9 544.7L767.9 570.9L769.5 627.2L770.2 642.2L770.5 645.5L770.8 646.2L771.8 642.5L772.2 642.3L772.5 643.8L773.2 653.2L773.5 662.2L774.5 719.1L775.5 834.2L775.8 815.4L776.5 705.5L777.5 621.4L778.8 566.6L779.8 545.6L780.8 536.3L781.2 535.4L781.5 535.4L781.8 536.4L782.5 541.0L784.5 566.4L785.5 574.3L785.8 574.5L786.1 573.7L788.1 561.0L788.5 560.3L788.8 560.5L789.5 564.1L789.8 567.7L790.5 579.4L791.5 611.2L792.1 647.0L793.5 794.3L793.8 799.1L795.1 657.4L796.1 613.2L796.8 597.8L797.4 589.7L797.8 587.9L798.1 587.2L798.4 587.5L799.8 592.9L800.1 593.3L800.4 592.6L801.4 582.1L803.1 550.8L804.1 536.5L804.8 531.1L805.1 529.7L805.4 529.3L805.8 529.8L806.1 531.3L806.4 533.9L807.8 555.3L808.8 585.8L809.7 633.7L811.1 728.6L811.4 744.2L811.7 744.4L813.1 695.3L813.7 685.4L814.1 685.3L814.4 688.2L815.7 720.3L816.1 723.2L816.7 700.8L818.4 605.2L819.4 568.4L820.1 551.7L821.1 536.0L821.7 531.0L822.0 530.1L822.4 530.1L822.7 531.1L823.4 535.8L824.0 544.1L826.4 589.8L827.0 599.2L827.7 602.7L828.0 602.4L829.4 598.3L829.7 598.5L830.0 599.8L830.7 606.6L831.4 620.6L832.0 644.8L832.7 685.3L833.7 808.3L834.0 815.2L834.7 717.2L835.4 655.7L836.3 604.1L837.3 576.7L838.0 566.9L838.3 564.0L839.0 561.7L839.3 562.0L840.0 565.2L841.7 578.2L842.0 579.4L842.3 579.4L842.7 578.3L843.3 572.7L845.3 550.0L846.0 546.4L846.3 546.0L846.7 546.5L847.7 554.4L848.6 573.7L849.6 608.7L850.3 646.0L851.3 751.1L852.0 933.0L852.6 775.3L853.3 702.6L854.0 667.8L854.6 650.0L855.3 642.6L855.6 641.7L856.0 642.0L857.0 644.9L857.3 643.9L857.6 640.6L861.0 552.6L862.0 537.9L862.3 534.9L862.9 531.9L863.3 531.9L863.6 532.8L864.3 537.6L865.3 552.2L866.3 576.2L868.3 641.7L868.9 654.6L869.3 656.8L869.6 656.8L870.6 653.2L870.9 653.6L871.6 659.9L871.9 666.9L872.9 712.0L873.9 827.0L874.3 841.7L874.6 818.9L875.2 704.7L876.2 627.1L876.9 596.6L877.9 567.5L878.6 556.0L879.6 547.8L879.9 547.2L880.2 547.6L880.9 551.0L883.2 579.5L883.9 585.0L884.2 586.0L884.6 585.7L884.9 584.4L886.6 573.1L886.9 571.8L887.2 571.4L887.6 571.9L887.9 573.5L888.2 576.3L888.9 586.0L889.9 613.4L890.9 665.7L892.2 816.1L893.9 662.8L894.9 622.0L895.9 603.7L896.2 601.0L896.5 599.6L896.9 599.2L897.2 599.8L898.5 605.0L898.9 605.1L899.2 603.8L899.9 597.0L901.9 560.1L902.8 546.6L903.5 541.7L903.8 540.6L904.2 540.5L904.8 543.2L905.2 546.1L906.5 569.3L907.5 601.4L908.5 651.4L909.8 744.6L910.2 755.0L910.5 750.7L911.8 703.6L912.5 696.3L912.8 697.4L913.2 701.5L914.5 735.1L914.8 735.1L916.8 626.9L918.1 576.4L918.8 560.5L919.8 546.0L920.5 541.8L920.8 541.1L921.1 541.5L921.5 542.8L922.1 548.1L922.8 556.9L925.1 602.6L925.8 610.8L926.1 612.7L926.5 613.1L927.8 609.0L928.1 608.6L928.5 609.1L929.1 613.9L929.8 625.3L930.8 660.4L931.4 704.5L932.4 829.5L932.8 811.0L933.4 715.9L934.1 659.5L934.8 624.1L935.8 592.5L936.8 577.0L937.1 574.5L937.4 573.2L937.8 572.9L938.4 575.1L940.4 589.7L940.8 590.4L941.1 590.0L941.8 585.6L944.1 559.6L944.7 556.7L945.1 556.5L945.4 557.3L946.4 566.4L947.4 587.2L948.4 624.4L949.1 664.2L950.1 781.5L950.7 942.3L951.4 769.9L952.1 706.5L952.7 675.3L953.7 655.6L954.1 653.6L954.4 653.2L955.4 656.2L955.7 656.3L956.4 650.2L959.4 567.6L960.4 550.8L961.4 543.0L961.7 542.3L962.0 542.6L962.7 546.0L964.0 564.9L967.4 661.1L967.7 665.1L968.0 666.3L968.4 665.8L969.0 663.1L969.3 662.6L969.7 663.6L970.3 671.6L970.7 679.5L971.7 730.1L972.7 877.3L973.0 877.3L973.7 743.4L974.7 650.7L976.0 592.2L977.0 569.7L978.0 559.3L978.3 558.0L978.7 557.8L979.0 558.5L979.7 562.5L982.0 591.0L982.6 595.6L983.0 596.1L983.3 595.4L985.0 584.1L985.6 581.4L986.0 581.2L986.6 584.1L987.0 587.3L987.6 598.0L988.6 627.5L989.3 660.6L991.0 826.6L992.0 714.1L992.6 667.5L993.6 629.8L994.6 613.3L995.3 610.0L995.6 610.1L995.9 610.9L996.9 615.1L997.3 615.8L997.6 615.3L997.9 613.5L998.6 605.5L1000.6 568.1L1001.6 555.4L1002.3 551.1L1002.6 550.4L1002.9 550.6L1003.6 554.0L1003.9 557.3L1005.3 582.0L1006.3 615.8L1007.3 668.0L1008.2 739.4L1008.6 757.7L1008.9 762.9L1010.2 718.5L1010.9 707.2L1011.2 706.4L1011.9 714.1L1013.2 748.0L1013.6 744.5L1015.6 631.5L1016.9 583.2L1017.6 568.3L1018.6 554.9L1019.2 551.4L1019.6 551.1L1020.2 553.4L1021.5 568.7L1024.2 618.2L1024.9 622.2L1025.2 622.2L1026.5 617.8L1026.9 617.7L1027.2 618.7L1027.9 624.5L1028.5 637.1L1029.2 659.2L1029.9 696.0L1031.2 841.5L1032.5 685.4L1033.5 629.6L1034.5 600.1L1035.2 589.3L1035.5 586.0L1036.2 583.0L1036.5 583.1L1037.2 585.7L1038.8 598.5L1039.2 599.9L1039.5 600.2L1039.8 599.2L1040.5 594.0L1042.5 570.7L1043.2 566.6L1043.5 565.8L1043.8 566.0L1044.5 569.4L1045.2 577.4L1046.2 599.7L1047.2 639.3L1047.8 681.9L1048.8 816.3L1049.1 952.9L1049.5 938.8L1050.1 765.9L1051.1 693.8L1051.8 673.8L1052.5 665.1L1052.8 663.7L1053.1 663.8L1054.1 666.9L1054.5 666.3L1054.8 663.6L1055.5 650.7L1058.1 574.7L1059.1 558.9L1060.1 552.0L1060.5 551.7L1060.8 552.3L1061.5 556.4L1062.8 576.7L1065.4 657.3L1066.1 671.2L1066.4 674.1L1066.8 674.6L1067.8 671.2L1068.1 671.2L1068.4 672.8L1069.1 682.4L1069.4 691.5L1070.1 722.6L1070.8 786.7L1071.4 939.7L1072.1 789.9L1073.1 675.3L1073.8 635.7L1074.8 598.4L1075.7 577.5L1076.7 568.2L1077.1 567.3L1077.4 567.4L1078.4 572.9L1080.4 597.9L1081.1 603.7L1081.4 604.9L1081.7 604.9L1082.1 603.8L1083.7 592.2L1084.4 590.0L1084.7 590.2L1085.4 593.8L1085.7 597.5L1086.4 609.2L1087.4 640.8L1088.0 676.4L1088.7 733.2L1089.4 824.6L1089.7 834.1L1091.0 690.2L1092.0 645.6L1092.7 630.1L1093.4 622.1L1093.7 620.3L1094.0 619.6L1094.4 620.0L1094.7 621.0L1095.7 625.1L1096.0 625.3L1096.4 624.3L1097.4 612.8L1099.0 580.8L1100.0 566.5L1101.0 559.7L1101.3 559.3L1101.7 559.8L1102.0 561.3L1102.7 567.5L1103.3 578.2L1104.7 615.8L1105.7 663.2L1107.3 768.0L1107.7 768.4L1109.0 724.3L1109.7 715.6L1110.0 716.1L1110.3 719.6L1111.7 755.6L1112.0 758.9L1112.7 734.3L1114.3 635.4L1115.3 598.4L1116.0 581.6L1117.0 566.0L1117.6 561.1L1118.0 560.2L1118.3 560.2L1118.6 561.2L1119.3 566.0L1120.0 574.2L1122.3 619.1L1123.0 627.8L1123.3 629.9L1123.6 630.6L1124.0 630.2L1125.3 625.9L1125.6 626.1L1126.0 627.4L1126.6 634.3L1127.3 648.2L1128.0 672.3L1128.6 712.2L1129.6 832.0L1129.9 843.4L1131.3 686.4L1132.3 634.5L1133.3 607.0L1133.9 597.2L1134.3 594.3L1134.6 592.7L1134.9 592.1L1135.3 592.5L1135.9 595.6L1137.6 608.1L1137.9 609.0L1138.3 608.8L1138.9 604.8L1141.2 578.2L1141.9 574.7L1142.2 574.2L1142.6 574.7L1142.9 576.3L1143.9 587.7L1144.9 611.6L1145.9 653.7L1146.6 699.4L1147.2 777.8L1147.9 959.6L1148.9 763.0L1149.9 698.8L1150.6 681.1L1151.2 673.9L1151.6 673.1L1151.9 673.6L1152.6 676.0L1152.9 676.5L1153.2 675.2L1153.6 671.5L1156.9 581.0L1157.9 566.2L1158.5 561.4L1158.9 560.4L1159.2 560.3L1159.9 563.2L1160.5 570.0L1161.5 587.7L1164.5 675.5L1165.2 682.0L1165.5 681.9L1166.5 678.6L1166.9 679.1L1167.2 681.4L1168.2 703.1L1168.8 737.9L1169.5 811.7L1170.2 1003.3L1170.5 852.2L1171.5 701.5L1172.2 655.8L1173.2 613.7L1174.2 589.6L1175.2 578.0L1175.5 576.4L1175.8 575.9L1176.2 576.3L1176.8 579.8L1179.2 607.6L1179.8 612.6L1180.2 613.3L1180.5 612.8L1182.5 599.6L1182.8 598.3L1183.1 597.9L1183.5 598.5L1183.8 600.1L1184.1 602.9L1184.8 612.6L1185.8 639.9L1186.8 691.9L1188.1 845.0L1188.5 831.4L1189.1 744.2L1189.8 692.5L1190.8 651.3L1191.8 633.0L1192.1 630.3L1192.5 628.9L1192.8 628.6L1194.5 634.1L1194.8 633.9L1195.1 632.3L1195.8 624.8L1197.8 587.0L1198.8 573.4L1199.4 568.6L1199.8 567.6L1200.1 567.5L1200.4 568.4L1200.8 570.2L1201.4 577.2L1202.1 588.7L1203.4 628.3L1204.4 677.7L1205.8 766.4L1206.1 775.8L1206.4 772.2L1207.8 729.8L1208.1 725.2L1208.4 723.7L1208.7 725.4L1209.1 730.2L1210.4 767.7L1210.7 767.8L1212.7 654.3L1214.1 603.4L1214.7 587.6L1215.7 573.1L1216.4 568.9L1216.7 568.3L1217.1 568.7L1217.4 570.0L1218.1 575.4L1218.7 584.2L1221.4 633.4L1221.7 636.4L1222.0 638.0L1222.4 638.2L1223.7 633.7L1224.0 633.3L1224.4 633.9L1225.0 638.8L1225.7 650.1L1226.7 685.0L1227.4 728.4L1228.4 851.1L1228.7 838.0L1229.4 744.2L1230.0 687.3L1230.7 651.8L1231.7 620.0L1232.7 604.5L1233.0 602.1L1233.4 600.8L1233.7 600.5L1234.3 602.7L1236.0 615.2L1236.3 616.7L1236.7 617.2L1237.0 616.5L1237.7 611.7L1240.0 585.1L1240.7 582.1L1241.0 582.0L1241.3 582.9L1242.3 592.0L1243.3 612.8L1244.3 650.0L1245.0 689.5L1246.0 805.0L1246.7 978.1L1247.3 799.4L1248.0 735.0L1248.6 703.6L1249.6 684.1L1250.0 682.3L1250.3 682.0L1251.3 685.2L1251.6 685.1L1252.3 678.3L1255.3 593.3L1256.3 576.6L1257.0 570.4L1257.6 568.1L1258.0 568.4L1258.3 569.7L1259.0 575.2L1260.0 590.9L1263.3 684.4L1263.6 687.9L1263.9 689.0L1264.9 685.8L1265.3 685.5L1265.9 689.6L1266.6 702.9L1267.3 730.7L1267.9 786.4L1268.3 864.0L1268.9 1121.3L1269.3 904.9L1269.9 730.5L1270.6 677.0L1271.6 629.1L1272.9 595.8L1273.6 587.7L1274.2 584.2L1274.6 583.9L1274.9 584.7L1275.6 588.7L1277.6 613.0L1278.6 620.6L1278.9 620.8L1279.2 619.9L1280.9 608.1L1281.6 605.4L1281.9 605.3L1282.6 608.2L1282.9 611.5L1283.6 622.1L1284.6 651.6L1285.6 707.3L1286.9 857.9L1287.9 742.1L1288.5 694.7L1289.5 656.6L1290.5 640.2L1291.2 637.0L1291.5 637.0L1291.9 637.9L1292.9 641.9L1293.2 642.3L1293.5 641.6L1293.9 639.5L1294.5 630.8L1296.2 598.4L1297.2 583.3L1297.9 577.3L1298.5 575.0L1298.9 575.2L1299.2 576.4L1299.5 578.6L1300.2 586.3L1300.8 598.6L1302.2 640.4L1304.5 776.7L1304.8 781.5L1306.2 741.7L1306.5 735.2L1306.8 731.9L1307.2 731.6L1307.8 740.6L1309.2 778.5L1309.5 774.7L1309.8 759.3L1311.5 656.6L1312.8 608.0L1313.5 593.1L1314.5 579.8L1315.1 576.3L1315.5 576.0L1316.1 578.3L1317.5 593.7L1319.5 632.6L1320.1 641.8L1320.8 645.2L1321.1 644.9L1322.5 640.3L1322.8 640.3L1323.1 641.2L1323.8 647.1L1324.5 659.7L1325.1 681.7L1325.8 718.0L1327.1 862.5L1328.4 711.1L1329.4 655.0L1330.4 625.4L1331.1 614.7L1331.4 611.4L1332.1 608.5L1332.4 608.5L1333.1 611.2L1334.8 623.5L1335.1 624.7L1335.4 624.7L1335.8 623.5L1336.4 617.8L1338.4 594.0L1339.1 589.9L1339.4 589.2L1339.8 589.4L1340.1 590.6L1341.1 600.9L1342.1 623.2L1343.1 662.7L1343.7 705.0L1344.4 774.8L1345.1 973.7L1345.4 999.3L1346.1 797.3L1346.4 759.4L1347.1 720.0L1347.7 700.1L1348.4 691.6L1348.7 690.3L1349.1 690.5L1350.1 693.8L1350.4 693.0L1351.1 684.1L1353.4 613.9L1354.7 586.8L1355.7 577.1L1356.0 575.8L1356.4 575.5L1357.0 577.7L1358.0 588.4L1359.0 608.2L1361.7 687.2L1362.4 694.8L1362.7 695.2L1363.7 692.0L1364.0 692.1L1364.4 693.9L1365.0 703.7L1365.7 725.9L1366.7 807.4L1367.0 872.5L1367.3 1051.0L1368.0 816.2L1369.0 699.6L1369.7 659.8L1370.7 622.5L1371.7 601.6L1372.3 594.3L1373.0 591.5L1373.3 591.6L1373.7 592.6L1374.3 597.2L1376.3 621.6L1377.0 627.0L1377.3 627.9L1377.7 627.7L1378.0 626.3L1379.7 614.3L1380.3 612.1L1380.7 612.3L1381.3 616.0L1381.6 619.7L1382.3 631.4L1383.3 663.0L1384.0 698.3L1384.6 754.7L1385.3 847.3L1385.6 861.8L1386.6 740.3L1387.3 696.8L1388.3 661.7L1389.0 650.3L1389.6 645.3L1390.0 644.7L1390.3 645.0L1391.6 649.9L1392.0 649.9L1392.3 648.6L1392.6 645.9L1395.3 597.9L1395.9 589.1L1396.6 583.7L1396.9 582.3L1397.3 582.0L1397.6 582.5L1398.3 586.7L1399.3 601.1L1399.9 616.9L1401.3 667.7L1403.3 784.9L1403.6 785.4L1404.9 745.9L1405.6 738.5L1405.9 739.5L1406.3 743.7L1407.6 783.8L1407.9 787.7L1408.2 779.5L1410.6 644.4L1411.9 604.6L1412.6 593.0L1413.2 586.1L1413.6 584.2L1413.9 583.3L1414.2 583.3L1414.9 586.3L1415.6 592.9L1418.2 641.3L1418.9 649.4L1419.2 651.3L1419.6 651.7L1421.2 646.6L1421.5 646.9L1421.9 648.2L1422.2 650.9L1423.2 669.1L1424.2 710.1L1424.9 761.5L1425.5 849.3L1425.9 864.7L1427.2 710.3L1428.2 658.1L1429.2 630.6L1429.9 620.8L1430.2 618.0L1430.5 616.3L1430.9 615.8L1431.2 616.2L1431.9 619.3L1433.5 631.3L1433.8 632.0L1434.2 631.5L1434.8 627.0L1437.2 599.8L1437.8 596.3L1438.2 595.8L1438.5 596.4L1438.8 598.0L1439.8 609.5L1440.8 633.4L1441.8 675.3L1442.5 720.7L1443.2 798.0L1443.8 998.0L1444.5 833.7L1445.2 758.5L1445.8 723.3L1446.8 701.1L1447.2 698.7L1447.5 698.1L1448.5 701.3L1448.8 701.6L1449.5 695.9L1452.5 609.9L1453.5 592.1L1454.5 583.4L1454.8 582.5L1455.1 582.5L1455.8 585.4L1456.5 592.2L1457.1 603.0L1460.5 695.3L1461.1 701.0L1461.4 700.8L1462.4 697.8L1462.8 698.5L1463.1 700.9L1464.1 722.8L1465.1 786.2L1466.1 984.7L1466.8 803.6L1467.4 724.4L1468.1 678.4L1469.1 636.1L1470.1 612.1L1471.1 600.6L1471.4 599.0L1471.8 598.5L1472.1 598.9L1472.8 602.4L1475.1 629.7L1475.7 634.2L1476.1 634.6L1476.4 633.9L1478.1 622.0L1478.7 618.8L1479.1 618.5L1479.4 619.0L1479.7 620.7L1480.1 623.5L1480.7 633.2L1481.7 660.5L1482.7 712.2L1484.1 867.7L1484.4 858.2L1485.4 739.0L1486.1 698.9L1486.7 674.7L1487.4 660.6L1488.0 653.7L1488.4 652.3L1488.7 652.1L1490.4 657.3L1490.7 656.8L1491.0 655.0L1491.7 646.8L1494.0 602.8L1494.7 594.5L1495.4 589.7L1495.7 588.7L1496.0 588.6L1496.4 589.6L1497.0 594.4L1498.0 610.0L1498.7 626.7L1500.0 679.9L1501.3 764.2L1502.0 791.1L1502.3 788.1L1503.7 750.1L1504.0 746.1L1504.3 745.2L1505.0 752.9L1506.3 794.8L1506.7 795.1L1509.3 646.8L1510.7 609.0L1511.3 598.3L1512.0 592.1L1512.3 590.5L1512.7 589.9L1513.0 590.3L1514.0 597.1L1515.0 611.4L1517.0 649.5L1517.6 656.5L1518.0 657.7L1518.3 657.7L1519.6 652.9L1520.0 652.6L1520.3 653.2L1520.6 655.0L1521.0 658.2L1522.0 678.3L1523.0 722.7L1524.3 867.5L1524.6 859.4L1525.3 767.0L1526.0 709.7L1526.6 674.0L1527.6 642.1L1528.3 630.4L1528.6 626.7L1529.3 623.0L1529.6 622.8L1530.3 625.0L1531.9 637.1L1532.3 638.4L1532.6 638.7L1532.9 637.7L1533.6 632.3L1535.6 607.9L1536.3 603.4L1536.6 602.3L1536.9 602.2L1537.6 605.1L1538.3 612.3L1539.3 633.1L1540.2 670.2L1540.9 709.6L1541.9 823.3L1542.6 1025.9L1543.2 823.4L1544.2 739.9L1544.9 717.5L1545.6 707.5L1545.9 705.8L1546.2 705.7L1547.2 709.1L1547.6 708.9L1548.2 701.2L1551.2 613.9L1552.2 597.2L1553.2 589.5L1553.5 588.9L1553.9 589.2L1554.5 592.8L1555.9 611.7L1558.5 688.9L1559.2 702.7L1559.5 705.8L1559.9 706.6L1560.9 703.6L1561.2 703.4L1561.5 704.7L1562.2 713.2L1562.5 721.3L1563.5 771.5L1564.5 897.9L1564.9 901.6L1565.9 752.2L1566.5 698.3L1567.8 639.3L1568.8 616.9L1569.8 606.6L1570.2 605.4L1570.5 605.2L1570.8 606.0L1571.5 610.0L1573.5 633.9L1574.2 639.6L1574.5 640.8L1574.8 640.7L1575.2 639.6L1576.8 627.3L1577.5 624.6L1577.8 624.6L1578.5 627.5L1578.8 630.8L1579.5 641.5L1580.5 670.8L1581.5 726.2L1582.8 881.3L1584.1 737.9L1584.8 701.0L1585.5 678.8L1586.1 666.0L1586.8 660.1L1587.1 659.2L1587.5 659.2L1588.8 663.9L1589.1 664.2L1589.8 660.7L1590.5 651.4L1592.5 612.4L1593.8 597.1L1594.4 594.8L1594.8 595.1L1595.4 598.6L1596.4 611.9L1597.1 626.8L1598.4 675.1L1600.1 776.1L1600.4 791.3L1600.8 795.6L1602.1 760.2L1602.8 751.6L1603.1 752.0L1603.4 755.5L1603.8 762.3L1605.1 804.7L1605.4 800.5L1607.7 662.0L1609.1 620.1L1609.7 607.7L1610.4 600.1L1610.7 597.8L1611.1 596.6L1611.4 596.4L1612.1 598.8L1612.7 604.8L1613.7 619.9L1615.4 652.2L1616.1 660.8L1616.4 662.9L1616.7 663.6L1617.1 663.2L1618.1 659.2L1618.4 658.4L1618.7 658.4L1619.4 661.6L1620.4 677.9L1621.4 715.4L1622.0 761.9L1623.0 879.1L1624.4 732.5L1625.4 676.0L1626.4 646.4L1627.0 635.7L1627.4 632.4L1628.0 629.5L1628.4 629.6L1629.0 632.3L1630.7 644.2L1631.0 645.1L1631.4 644.8L1632.0 640.8L1634.3 612.9L1635.0 608.9L1635.3 608.2L1635.7 608.4L1636.3 612.0L1637.0 620.0L1638.0 642.4L1639.0 681.8L1639.7 723.8L1640.3 792.7L1641.3 1037.8L1642.0 822.0L1642.3 781.5L1643.0 741.9L1643.7 722.1L1644.3 713.8L1644.7 712.7L1645.0 713.1L1646.0 716.5L1646.3 715.5L1646.7 712.0L1649.6 625.1L1650.6 606.3L1651.6 596.6L1652.0 595.3L1652.3 595.0L1653.0 597.3L1653.6 603.5L1654.3 613.7L1655.3 636.5L1657.3 697.4L1658.0 709.3L1658.3 711.5L1658.6 711.6L1659.6 708.6L1660.0 708.9L1660.6 714.7L1660.9 720.9L1661.6 743.0L1662.3 786.2L1663.3 908.0L1663.6 888.1L1664.6 747.7L1665.3 697.8L1666.6 642.4L1667.6 621.6L1668.6 612.4L1668.9 611.6L1669.3 611.7L1669.9 614.7L1672.3 641.3L1672.9 646.2L1673.2 646.8L1673.6 646.3L1673.9 644.8L1675.6 632.3L1676.2 630.2L1676.6 630.5L1676.9 631.8L1677.2 634.2L1678.2 649.6L1679.2 681.1L1679.9 716.2L1680.6 772.2L1681.2 866.0L1681.6 882.3L1682.9 737.2L1683.6 703.2L1684.2 682.7L1684.9 671.3L1685.6 666.4L1685.9 665.8L1686.2 666.2L1687.5 670.7L1687.9 670.5L1688.2 669.0L1688.5 665.9L1691.2 616.6L1691.9 607.8L1692.5 602.4L1692.9 601.1L1693.2 600.8L1693.5 601.4L1694.2 605.6L1695.2 620.0L1695.9 635.8L1697.2 686.4L1699.2 798.2L1699.5 798.8L1700.8 763.4L1701.2 758.8L1701.5 757.3L1701.8 758.9L1702.2 763.8L1703.5 808.4L1703.8 813.0L1704.2 803.9L1705.5 713.5L1706.5 663.6L1707.5 631.4L1708.8 608.2L1709.2 605.3L1709.8 602.6L1710.2 602.7L1710.5 603.7L1711.2 608.6L1712.2 622.1L1714.1 659.8L1714.8 667.3L1715.1 668.8L1715.5 669.0L1717.1 663.7L1717.5 663.9L1717.8 665.3L1718.1 668.0L1719.1 686.2L1720.1 726.8L1721.8 882.2L1723.1 730.6L1723.8 692.0L1724.8 657.7L1725.8 640.8L1726.1 638.0L1726.5 636.3L1726.8 635.8L1727.1 636.2L1727.4 637.5L1729.4 650.8L1729.8 651.3L1730.1 650.5L1730.8 645.5L1732.8 620.6L1733.4 615.6L1733.8 614.3L1734.1 613.9L1734.4 614.4L1734.8 616.0L1735.4 622.5L1736.4 641.9L1737.4 676.8L1738.4 738.4L1739.4 889.2L1739.8 1053.7L1740.4 857.4L1741.1 779.6L1741.7 744.2L1742.7 722.3L1743.1 720.0L1743.4 719.5L1744.4 723.1L1744.7 723.3L1745.4 716.9L1748.4 628.4L1749.4 610.6L1750.4 602.0L1750.7 601.0L1751.1 601.1L1751.7 604.0L1753.0 621.7L1756.4 711.6L1756.7 715.3L1757.0 716.6L1757.4 716.3L1758.0 714.0L1758.4 713.5L1758.7 714.4L1759.4 721.5L1759.7 728.7L1760.4 753.5L1761.0 801.9L1762.0 953.5L1762.7 824.3L1763.7 718.1L1765.0 655.1L1766.0 631.1L1767.0 619.7L1767.3 618.1L1767.7 617.6L1768.0 618.1L1768.7 621.6L1771.0 648.3L1771.7 652.3L1772.0 652.5L1772.3 651.5L1774.0 639.1L1774.7 636.0L1775.0 635.6L1775.3 636.2L1775.7 637.9L1776.0 640.7L1776.7 650.5L1777.7 677.8L1778.7 729.1L1779.3 790.0L1780.0 886.9L1780.3 881.9L1781.0 790.4L1781.6 736.8L1782.6 694.8L1783.6 676.5L1784.3 672.5L1784.6 672.3L1785.0 672.9L1786.0 676.7L1786.3 677.1L1786.6 676.4L1787.0 674.3L1787.6 665.5L1790.3 616.0L1791.0 609.5L1791.6 606.6L1792.0 606.5L1792.3 607.5L1792.6 609.4L1793.3 616.4L1793.9 628.0L1794.9 655.3L1795.9 697.6L1797.6 795.7L1797.9 803.5L1798.3 800.9L1799.6 766.9L1799.9 763.5L1800.3 763.2L1800.9 772.2L1802.3 818.9L1802.6 819.4L1804.3 712.9L1805.6 653.3L1806.2 634.5L1807.2 616.6L1808.2 608.9L1808.6 608.4L1808.9 608.8L1809.2 610.2L1809.9 615.6L1810.6 624.4L1813.2 670.9L1813.9 674.3L1814.2 674.1L1815.6 669.1L1815.9 668.8L1816.2 669.4L1816.6 671.2L1817.6 685.8L1818.2 705.7L1819.2 762.3L1820.2 1009.9L1821.2 786.8L1822.2 709.2L1823.2 669.6L1823.9 654.5L1824.9 643.4L1825.2 642.2L1825.5 642.0L1825.9 642.7L1827.9 655.9L1828.2 657.0L1828.5 657.0L1828.9 655.8L1829.5 649.9L1831.5 625.0L1832.2 620.5L1832.5 619.5L1832.8 619.4L1833.5 622.3L1834.2 629.6L1835.5 660.6L1836.5 705.1L1837.2 753.5L1837.8 840.3L1838.5 1085.5L1839.2 846.0L1840.2 759.9L1840.8 737.5L1841.5 727.8L1841.8 726.3L1842.2 726.3L1843.2 730.0L1843.5 729.6L1844.2 721.1L1846.8 639.2L1847.8 619.4L1848.8 608.7L1849.5 606.6L1849.8 607.0L1850.1 608.3L1850.8 613.9L1851.5 623.4L1852.5 645.1L1854.5 705.2L1855.1 718.0L1855.5 720.7L1855.8 721.3L1856.8 718.4L1857.1 718.4L1857.5 719.8L1858.1 728.5L1858.5 736.6L1859.5 786.5L1860.4 914.4L1860.8 921.5L1861.8 771.1L1862.4 716.6L1863.8 657.5L1864.8 635.1L1865.8 624.9L1866.1 623.7L1866.4 623.5L1866.8 624.3L1867.4 628.4L1869.4 651.8L1870.1 657.0L1870.4 658.0L1870.8 657.7L1871.1 656.3L1872.8 643.6L1873.4 641.0L1873.7 640.9L1874.4 643.9L1874.7 647.2L1875.4 657.9L1876.4 687.2L1877.4 742.3L1878.7 901.8L1879.7 785.8L1880.4 736.7L1881.4 698.0L1882.4 681.6L1883.1 678.5L1883.4 678.6L1883.7 679.5L1884.7 683.1L1885.1 683.1L1885.4 681.9L1886.4 669.2L1888.0 635.2L1889.0 620.1L1889.7 614.1L1890.4 611.9L1890.7 612.2L1891.0 613.5L1891.4 615.8L1892.0 623.5L1892.7 635.9L1893.7 664.7L1894.7 708.7L1896.4 803.3L1896.7 807.3L1898.0 775.6L1898.7 768.4L1899.0 769.3L1899.7 780.9L1901.0 828.3L1901.3 823.8L1901.7 805.3L1902.7 732.4L1903.7 679.6L1904.7 645.7L1906.0 620.9"/>
<path stroke="#ff0000" stroke-dasharray="24.8 6.4 11.6 6.6" d="M243.8 265.1L244.8 280.8L247.5 351.5L249.2 413.2L250.2 502.0L250.8 651.9L251.8 509.4L252.8 459.8L253.5 440.9L254.1 430.5L254.5 428.1L254.8 427.5L255.1 428.5L255.8 435.2L256.5 448.4L257.5 482.3L259.1 572.5L259.5 578.6L259.8 572.3L261.1 514.7L261.8 496.7L262.1 491.1L262.8 486.2L263.1 486.7L263.4 489.3L263.8 494.0L264.4 510.4L265.1 539.2L266.4 657.6L266.8 665.3L267.1 658.7L268.4 537.1L269.4 493.9L270.1 478.5L270.8 470.5L271.1 469.0L271.4 469.0L271.8 470.6L272.4 478.4L273.4 503.4L274.1 531.7L275.1 605.0L276.1 880.0L277.1 607.1L278.1 551.8L278.7 534.6L279.4 527.5L279.7 527.3L280.1 529.1L280.4 533.1L281.1 547.9L281.7 572.9L283.1 645.0L283.4 646.2L285.1 553.4L286.1 519.7L286.7 507.7L287.1 504.2L287.4 502.4L287.7 502.2L288.4 506.6L289.1 517.9L290.1 551.5L291.0 620.8L292.0 813.7L292.4 791.6L292.7 695.1L293.4 612.1L294.0 570.4L295.0 538.3L295.4 532.8L296.0 527.6L296.4 527.8L296.7 529.7L297.4 538.8L298.4 566.8L299.7 628.3L300.0 639.3L300.4 641.1L302.7 556.5L303.7 542.6L304.0 541.7L304.3 542.6L304.7 545.5L305.3 557.3L306.0 579.3L307.0 645.4L307.7 754.2L308.0 922.4L309.0 656.3L310.0 579.2L310.7 552.5L311.3 536.2L312.0 527.7L312.3 526.0L312.7 525.8L313.0 527.2L313.7 534.9L314.3 549.4L315.7 606.3L317.0 703.1L317.3 702.2L318.3 636.0L319.3 593.0L320.3 576.1L320.6 575.0L321.0 576.2L321.3 579.5L322.0 593.4L322.6 619.2L324.0 714.2L324.3 716.3L324.6 712.9L325.6 623.9L326.6 572.8L327.3 553.2L328.0 541.5L328.6 536.5L329.0 536.4L329.3 537.8L330.3 551.9L331.3 584.4L331.9 622.2L332.6 686.6L333.6 1064.3L334.3 727.5L334.6 660.0L335.3 616.4L335.9 591.8L336.6 578.8L336.9 575.7L337.3 574.6L337.6 575.5L337.9 578.3L338.6 589.8L339.3 610.0L340.9 680.1L341.3 677.8L341.6 665.4L342.6 614.9L343.6 580.4L344.2 567.5L344.6 563.8L344.9 561.8L345.2 561.5L345.9 565.9L346.2 570.9L346.9 587.4L347.6 615.0L348.2 661.4L348.9 775.3L349.6 1019.2L349.9 819.5L350.6 662.8L351.6 600.3L352.6 571.4L353.2 563.0L353.6 561.4L353.9 561.5L354.6 566.6L355.2 578.5L356.2 611.3L357.9 698.5L358.2 699.6L360.2 614.0L361.2 596.4L361.5 594.8L361.9 595.2L362.2 597.7L362.9 609.5L363.5 632.6L364.9 735.2L365.2 745.6L365.5 749.0L365.9 737.8L367.2 625.4L368.2 583.9L368.9 568.7L369.5 560.9L369.9 559.4L370.2 559.4L370.5 561.0L371.2 568.9L372.2 594.7L372.8 624.3L373.8 704.1L374.8 1065.6L375.5 753.3L375.8 683.2L376.5 643.3L377.2 620.8L377.8 609.7L378.2 607.7L378.5 607.8L379.2 614.5L380.2 642.5L381.8 728.2L382.2 722.1L383.5 638.0L384.1 608.9L385.1 583.0L385.5 578.1L386.1 573.4L386.5 573.4L386.8 575.1L387.5 583.4L388.1 599.6L388.8 626.0L389.8 701.6L390.5 804.4L391.1 804.4L391.8 698.5L392.5 647.4L393.1 618.1L394.1 596.1L394.8 591.9L395.1 592.4L395.5 594.8L396.4 612.7L398.8 706.6L399.1 704.5L400.4 646.0L401.4 614.8L402.1 604.5L402.4 602.1L402.8 601.6L403.4 606.3L403.8 611.7L404.8 643.4L405.8 717.3L406.8 937.0L407.4 740.7L408.1 668.7L408.8 628.7L409.4 603.9L410.1 588.9L410.4 584.3L411.1 580.1L411.4 580.3L411.7 582.2L412.4 590.7L413.4 617.4L414.4 667.4L415.7 766.6L416.1 757.0L417.4 666.7L418.1 642.9L418.7 630.5L419.1 627.8L419.4 627.4L419.7 629.1L420.4 639.7L421.4 677.7L422.4 742.3L422.7 747.2L423.1 747.0L423.4 741.8L424.7 645.6L425.7 606.7L426.4 592.4L427.0 585.1L427.4 583.9L427.7 584.2L428.4 589.4L429.0 601.6L429.7 622.1L430.7 677.4L432.0 844.2L432.4 844.2L433.0 728.8L433.7 674.3L434.7 634.6L435.0 627.6L435.7 620.5L436.0 620.1L436.3 621.5L436.7 625.0L437.3 638.0L439.3 723.0L439.7 728.4L440.0 721.5L441.3 654.1L442.3 621.0L443.0 609.1L443.7 604.4L444.0 604.5L444.3 606.4L445.0 615.6L446.0 646.7L446.7 685.4L447.3 756.3L447.7 824.1L448.0 837.6L448.3 837.6L449.0 725.0L449.6 668.7L450.3 636.0L451.3 609.7L452.0 602.4L452.3 601.4L452.6 602.0L453.3 608.2L454.0 621.3L455.0 656.7L456.6 745.0L457.0 741.3L458.3 673.7L459.0 651.1L459.6 638.4L460.0 635.3L460.3 634.2L460.6 635.3L461.3 644.0L462.0 663.1L462.9 723.8L463.6 830.8L463.9 935.7L464.6 788.0L465.3 701.0L466.3 639.9L466.9 617.2L467.9 599.2L468.3 596.6L468.6 595.6L468.9 596.1L469.9 607.2L470.9 635.0L471.6 667.0L472.6 765.5L473.3 926.4L473.9 791.1L474.6 712.5L475.6 663.3L476.6 644.9L476.9 643.6L477.2 644.4L477.6 647.4L478.2 660.4L479.2 700.6L480.2 762.3L480.6 768.1L482.2 666.7L483.2 629.1L483.9 615.0L484.6 608.0L484.9 606.9L485.2 607.5L485.6 609.6L486.2 619.1L487.2 649.3L488.2 712.1L488.9 803.5L489.2 907.5L489.6 922.4L489.9 813.0L490.5 719.4L491.2 673.6L492.2 638.1L492.5 631.6L493.2 624.9L493.5 624.3L493.9 625.5L494.5 633.2L495.5 659.3L497.2 737.4L497.5 743.1L497.9 736.9L499.9 652.4L500.5 639.2L500.9 635.5L501.2 633.7L501.5 633.8L502.2 639.8L502.5 645.9L503.2 666.0L504.2 727.0L504.8 851.9L505.2 1020.5L505.8 817.5L506.5 716.3L507.2 669.3L507.8 640.5L508.8 616.9L509.2 612.9L509.5 610.5L509.8 609.8L510.2 610.6L510.5 612.9L510.8 616.9L511.8 639.7L512.8 684.0L513.5 732.5L513.8 748.5L514.2 753.1L514.5 754.7L515.2 747.5L516.1 693.1L516.8 670.9L517.5 659.8L517.8 657.8L518.1 658.1L518.8 665.6L519.5 683.6L520.8 760.4L521.5 770.2L522.1 760.7L523.1 686.2L524.5 631.8L525.1 618.7L525.8 612.5L526.1 611.7L526.5 612.5L527.1 618.9L527.8 632.3L528.5 654.4L529.5 714.4L530.1 797.3L530.8 939.7L531.8 745.1L532.8 680.3L533.4 659.7L534.1 649.7L534.4 647.9L534.8 648.2L535.1 650.3L535.8 660.7L536.8 693.3L538.1 757.1L538.4 758.2L540.1 676.8L541.1 645.5L541.8 634.7L542.1 632.0L542.4 631.0L542.8 631.7L543.1 634.2L543.7 644.7L544.7 678.6L545.4 721.0L546.1 800.6L546.4 878.3L546.7 897.2L547.4 776.5L548.1 708.4L549.1 657.2L550.1 633.4L550.7 627.4L551.1 626.9L551.4 628.1L552.1 635.5L552.7 650.0L553.7 688.3L555.1 769.1L555.4 776.5L557.0 696.2L557.7 674.9L558.0 668.0L558.7 660.9L559.0 660.6L559.4 662.3L559.7 666.3L560.7 694.2L562.0 785.0L562.7 810.2L563.4 782.0L564.0 715.2L565.0 659.2L565.7 638.3L566.4 625.8L567.0 620.1L567.4 619.6L567.7 620.7L568.7 633.4L569.4 651.2L570.7 722.7L571.3 809.9L572.0 987.4L573.0 757.2L573.7 710.7L574.3 685.0L574.7 677.1L575.3 669.0L575.7 668.4L576.0 670.0L576.7 680.0L577.7 715.0L579.0 795.9L579.3 793.8L580.7 702.1L581.3 670.4L582.3 642.0L583.0 632.7L583.3 630.6L583.6 630.1L584.3 633.8L585.0 644.5L586.0 677.2L587.0 745.5L587.6 830.9L588.3 830.9L589.6 708.1L590.3 676.6L591.3 652.5L592.0 647.1L592.3 647.2L592.6 649.0L593.6 665.4L594.6 700.8L596.0 766.9L596.3 768.7L597.9 693.5L598.6 672.7L599.6 657.6L599.9 656.4L600.3 657.1L600.6 659.7L601.6 680.9L602.6 731.9L603.9 907.8L604.3 880.5L604.9 758.3L605.6 702.7L606.3 669.5L606.9 648.7L607.6 636.5L608.3 631.3L608.6 631.1L608.9 632.5L609.6 640.0L610.6 664.9L611.6 712.9L612.2 766.3L612.6 783.7L612.9 788.4L613.2 788.5L613.6 784.3L613.9 773.3L614.6 727.2L615.6 690.9L615.9 684.9L616.2 681.4L616.6 680.2L616.9 681.2L617.2 684.6L617.6 690.5L618.2 711.0L618.9 747.6L619.9 854.9L620.2 866.7L621.2 747.9L622.2 683.0L622.9 658.2L623.9 637.6L624.5 632.5L624.9 632.2L625.2 633.6L625.5 636.5L626.2 647.4L626.9 666.3L627.9 717.4L628.5 782.5L629.2 907.8L629.5 907.8L630.2 791.1L630.9 729.6L631.9 685.9L632.9 669.6L633.2 668.5L633.5 669.4L633.9 672.3L634.9 693.7L636.8 783.3L637.2 779.3L638.5 707.3L639.5 671.0L640.5 653.8L640.8 651.6L641.2 651.2L641.8 655.5L642.8 676.8L643.5 704.4L644.5 786.4L645.2 816.0L645.5 813.8L645.8 802.9L646.8 718.6L647.5 684.2L648.2 663.0L648.8 651.0L649.5 646.2L649.8 646.4L650.1 648.2L650.8 656.8L651.5 672.8L652.5 714.3L653.8 797.9L654.1 800.3L656.1 701.4L656.8 686.6L657.1 682.6L657.5 680.8L657.8 681.2L658.5 688.5L659.1 706.2L660.1 763.7L660.8 861.2L661.1 984.7L661.5 964.0L662.1 789.4L662.8 724.4L664.1 662.3L665.1 642.7L665.4 639.6L665.8 638.1L666.1 638.2L666.8 642.9L667.1 647.7L668.1 673.5L668.8 703.6L669.4 751.3L670.1 851.0L670.8 1016.6L671.4 814.0L671.8 767.9L672.8 711.5L673.4 694.5L674.1 688.0L674.4 688.1L674.8 690.6L675.4 702.4L676.4 741.6L677.7 822.1L678.1 810.7L679.4 714.2L680.1 684.4L681.1 658.0L681.7 649.9L682.1 648.3L682.4 648.3L683.1 653.1L683.7 665.1L684.4 685.8L685.1 719.0L685.7 774.5L686.7 914.5L687.4 806.0L688.1 739.5L688.7 702.6L689.7 673.6L690.0 668.7L690.4 665.8L690.7 664.7L691.0 665.4L691.4 667.9L692.0 678.4L693.0 709.7L694.7 790.9L695.0 788.2L696.4 721.5L697.4 688.5L698.0 677.6L698.4 675.1L698.7 674.6L699.4 679.2L699.7 684.7L700.7 717.0L701.7 792.7L702.7 1076.2L703.0 911.8L703.7 761.3L704.7 695.0L705.3 671.0L706.3 651.9L706.7 649.1L707.0 647.9L707.3 648.2L708.0 653.6L708.3 658.8L709.3 686.0L710.0 716.9L711.0 808.0L711.7 935.7L712.3 827.4L713.0 759.8L714.0 714.9L714.3 707.0L715.0 699.0L715.3 698.5L715.6 700.4L716.3 711.6L717.3 752.7L718.6 896.1L719.0 880.1L720.0 754.5L721.0 694.3L721.6 671.3L722.6 652.6L723.0 649.8L723.3 648.6L723.6 648.9L724.3 654.2L725.3 675.4L726.3 719.1L727.0 772.0L727.6 881.3L728.0 897.2L728.3 897.2L729.3 762.0L730.3 709.3L731.3 688.2L731.6 685.8L731.9 685.5L732.3 687.1L733.3 704.5L733.9 727.9L735.3 798.5L735.6 804.1L737.9 693.9L738.9 672.6L739.6 667.7L739.9 667.8L740.3 669.7L741.3 686.7L741.9 710.0L743.2 808.3L743.9 823.7L744.6 808.6L745.2 748.5L746.2 694.9L747.2 669.5L747.6 665.2L747.9 662.6L748.2 661.8L748.6 662.5L748.9 664.9L749.6 674.8L750.6 704.5L752.6 822.6L752.9 818.7L754.2 739.7L755.2 707.5L755.9 698.7L756.2 697.6L756.5 698.7L757.2 707.7L757.9 727.7L758.5 764.1L759.2 835.2L759.5 908.8L759.9 1159.8L760.2 920.3L760.9 788.8L761.5 731.0L762.2 696.2L763.2 666.4L763.9 656.5L764.5 653.1L764.9 653.7L765.2 655.8L765.5 659.5L766.5 681.3L767.9 748.1L768.5 820.5L769.2 1009.9L770.2 807.3L770.8 753.2L771.5 724.1L772.5 705.3L772.8 704.1L773.2 705.0L773.8 713.9L774.8 747.6L776.2 837.7L776.5 841.7L777.8 742.4L778.5 708.1L779.5 677.3L780.5 664.2L780.8 663.1L781.2 663.6L781.8 669.6L782.5 682.8L783.1 705.2L784.1 766.6L784.8 848.3L785.1 856.1L785.5 856.1L785.8 849.3L786.5 770.1L787.1 726.9L787.8 701.1L788.8 682.3L789.1 680.0L789.5 679.6L790.1 684.1L791.1 705.1L791.8 730.3L793.1 803.6L793.5 810.8L793.8 803.2L794.8 748.2L795.8 709.6L796.8 692.0L797.1 690.1L797.4 690.2L798.1 696.2L799.1 722.8L799.8 758.1L801.1 914.5L801.4 914.3L802.1 796.2L802.8 738.3L803.8 691.4L804.8 668.6L805.4 662.5L805.8 661.9L806.1 662.8L806.4 665.3L807.4 682.9L808.1 704.7L809.1 761.3L810.4 891.4L811.4 793.5L812.1 751.6L813.1 720.7L813.4 716.3L813.7 714.3L814.1 714.6L814.7 722.6L815.1 730.6L816.1 777.2L817.4 925.1L818.4 788.4L819.4 717.9L820.7 674.7L821.4 665.3L821.7 663.1L822.0 662.4L822.4 663.2L823.0 669.6L823.7 683.0L825.0 739.7L825.7 797.2L826.4 919.6L826.7 946.3L827.4 834.9L828.0 767.4L828.7 731.5L829.7 705.2L830.0 701.5L830.4 699.8L830.7 700.2L831.4 707.1L831.7 713.7L832.7 748.4L834.0 820.3L834.4 820.5L835.7 744.5L836.7 704.8L837.3 690.0L838.0 682.7L838.3 681.6L838.7 682.3L839.3 689.0L840.3 714.9L841.0 747.2L841.7 801.2L842.3 892.9L842.7 905.2L843.3 811.9L844.3 732.0L845.0 703.8L845.7 686.5L846.3 677.4L846.7 675.5L847.0 675.2L847.7 679.5L848.0 684.2L849.0 709.9L849.6 739.1L851.0 832.6L851.3 843.7L852.6 766.6L853.6 727.4L854.3 715.3L854.6 712.8L855.0 712.4L855.6 718.4L856.3 734.6L857.0 765.0L857.6 821.7L858.6 1057.7L859.0 896.2L859.3 829.6L860.0 758.5L860.6 718.4L861.6 684.0L862.6 668.4L862.9 666.4L863.3 666.1L863.6 667.2L864.6 680.1L865.6 710.4L866.3 745.4L866.9 803.0L867.6 951.2L867.9 1141.2L868.6 859.7L869.3 782.1L869.9 746.2L870.6 726.9L871.3 718.9L871.6 718.4L871.9 720.2L872.6 730.9L873.6 768.7L874.9 861.9L875.2 854.9L876.2 770.5L877.2 716.5L878.2 688.0L879.2 676.6L879.6 676.1L879.9 677.1L880.6 684.2L881.2 698.8L881.9 722.8L882.9 788.5L883.6 872.5L883.9 887.9L884.2 887.9L884.9 800.8L885.6 750.5L886.2 720.6L887.2 697.5L887.9 692.5L888.2 692.8L888.5 694.8L889.5 712.1L890.5 749.4L891.9 824.7L892.2 827.2L893.5 757.1L894.5 720.4L895.5 704.7L895.9 703.5L896.2 704.1L896.5 706.8L897.5 728.3L898.5 779.7L899.9 948.9L900.9 793.3L901.9 724.8L902.5 699.7L903.5 679.2L904.2 674.4L904.5 674.3L904.8 675.8L905.2 678.8L905.8 689.9L906.5 708.9L907.8 783.6L909.2 999.3L910.2 800.4L911.2 748.4L912.2 729.3L912.5 728.1L912.8 729.2L913.5 739.1L914.5 778.2L915.1 833.2L915.8 941.1L916.1 940.0L916.8 824.9L917.8 741.3L918.8 700.0L919.5 684.7L920.1 676.5L920.5 674.8L920.8 674.6L921.1 676.0L921.8 683.5L922.5 698.1L923.1 721.8L924.1 785.5L925.1 893.3L925.5 893.3L925.8 880.4L926.5 796.4L927.1 753.5L927.8 729.1L928.5 716.3L928.8 713.3L929.1 712.5L929.4 713.6L930.4 729.5L931.4 767.7L932.8 839.1L933.1 833.0L934.4 751.8L935.4 714.3L936.4 696.8L936.8 694.6L937.1 694.1L937.8 698.4L938.8 719.6L939.4 746.8L940.1 791.2L940.8 862.8L941.4 862.8L942.4 777.7L943.4 722.7L944.4 695.9L945.1 688.2L945.4 686.9L945.7 687.2L946.4 692.8L946.7 698.2L947.7 726.2L948.7 779.0L949.7 856.4L950.1 861.3L951.4 774.9L952.4 738.1L953.1 727.4L953.4 725.6L953.7 725.9L954.4 733.6L954.7 741.2L955.7 786.0L956.4 851.5L957.0 1037.8L957.7 873.7L958.7 760.6L960.0 700.8L961.0 681.8L961.4 678.9L961.7 677.5L962.0 677.7L962.7 682.6L963.0 687.4L964.0 713.3L964.7 743.4L965.4 791.4L966.0 882.9L966.7 1057.7L967.4 850.4L968.0 787.4L968.7 754.7L969.3 737.5L970.0 731.2L970.3 731.5L970.7 734.2L971.3 746.9L972.3 789.3L973.3 869.0L973.7 881.3L975.0 774.5L975.7 737.4L976.7 704.2L977.3 692.6L978.0 687.8L978.3 687.8L978.7 689.4L979.3 697.6L980.0 713.5L980.7 739.3L981.3 779.9L982.3 877.3L982.6 877.3L983.0 872.3L983.6 799.1L984.3 754.7L985.0 727.8L986.0 707.4L986.3 704.7L986.6 703.9L987.0 704.8L987.3 707.5L988.3 727.0L989.3 767.6L990.6 843.5L991.0 840.4L992.3 764.6L993.3 730.0L994.3 716.2L994.6 715.6L994.9 717.0L995.3 720.3L996.3 744.4L996.9 776.6L997.6 832.7L998.3 925.1L998.6 923.2L999.3 824.2L999.9 765.6L1000.9 717.1L1001.9 693.0L1002.3 688.7L1002.9 685.0L1003.3 685.5L1003.6 687.6L1003.9 691.2L1004.9 712.7L1005.6 738.2L1006.6 805.4L1007.6 934.3L1007.9 924.9L1008.6 834.6L1009.2 785.1L1010.2 749.5L1010.9 741.2L1011.2 740.8L1011.6 742.9L1012.6 765.4L1013.2 799.2L1013.9 863.7L1014.6 971.5L1015.6 821.9L1016.2 765.1L1017.2 717.6L1017.9 699.6L1018.6 689.3L1018.9 686.5L1019.2 685.4L1019.6 685.7L1020.2 691.1L1021.2 712.1L1021.9 737.5L1022.9 805.6L1023.9 946.3L1025.2 797.5L1026.2 746.7L1027.2 726.4L1027.5 724.2L1027.9 724.1L1028.2 726.0L1029.2 744.5L1030.2 786.5L1031.2 848.7L1031.5 854.6L1032.9 775.4L1033.9 732.0L1034.5 715.6L1035.2 707.1L1035.5 705.4L1035.8 705.5L1036.5 711.0L1037.5 734.3L1038.2 763.5L1039.8 898.6L1040.8 803.5L1041.8 741.4L1042.8 710.3L1043.5 700.4L1043.8 698.1L1044.2 697.4L1044.5 698.3L1044.8 700.9L1045.5 711.1L1046.5 741.7L1047.2 776.0L1048.5 878.6L1048.8 875.1L1050.1 782.1L1051.1 747.8L1051.8 738.6L1052.1 737.5L1052.5 738.6L1053.1 748.0L1053.8 768.7L1054.8 837.3L1055.1 904.7L1055.8 1204.9L1056.1 994.2L1056.8 816.6L1057.5 762.4L1058.5 717.3L1059.5 694.8L1059.8 690.9L1060.1 688.5L1060.5 687.7L1060.8 688.4L1061.1 690.6L1061.5 694.3L1062.4 716.2L1063.8 782.7L1064.4 853.1L1065.1 1036.5L1066.1 848.2L1066.8 792.1L1067.4 762.5L1068.1 747.4L1068.4 743.8L1068.8 742.7L1069.1 743.9L1069.4 747.4L1070.1 762.2L1071.1 809.8L1072.1 894.2L1072.4 894.3L1074.1 758.5L1075.1 720.1L1075.7 706.1L1076.4 699.1L1076.7 698.0L1077.1 698.6L1077.7 704.5L1078.7 727.3L1079.7 773.8L1080.7 859.8L1081.1 864.7L1081.4 864.3L1081.7 859.2L1082.4 797.9L1083.4 744.9L1084.1 726.3L1084.7 716.6L1085.1 714.6L1085.4 714.4L1086.1 719.3L1087.1 741.2L1088.0 785.4L1089.0 850.5L1089.4 859.8L1089.7 850.5L1091.0 771.3L1091.7 747.0L1092.7 728.9L1093.0 727.0L1093.4 727.0L1093.7 729.0L1094.7 748.1L1095.4 775.0L1096.0 820.6L1096.7 898.7L1097.0 910.5L1097.4 902.1L1098.4 789.2L1099.4 734.3L1100.0 713.5L1100.7 701.0L1101.3 695.4L1101.7 694.9L1102.0 696.0L1102.3 698.6L1103.0 708.7L1103.7 726.3L1105.0 796.5L1105.7 876.7L1106.3 1025.9L1107.3 837.7L1108.0 791.6L1108.7 766.5L1109.3 754.5L1109.7 752.5L1110.0 753.0L1110.3 755.9L1111.0 770.0L1111.7 798.4L1112.3 851.6L1113.0 972.4L1113.3 995.3L1114.0 858.6L1115.0 767.3L1116.3 714.3L1117.0 701.7L1117.3 698.0L1117.6 695.8L1118.0 695.2L1118.3 696.0L1118.6 698.5L1119.3 708.2L1120.6 752.4L1121.3 794.6L1122.3 901.2L1123.0 901.2L1123.6 824.4L1124.3 779.4L1125.0 753.4L1126.0 735.8L1126.3 734.4L1126.6 735.0L1127.0 737.7L1128.0 758.9L1128.6 786.3L1129.9 867.5L1130.3 866.5L1131.6 780.0L1132.6 739.1L1133.6 719.4L1134.3 715.5L1134.6 716.2L1134.9 718.6L1135.9 737.5L1136.6 762.1L1137.9 860.7L1138.3 876.9L1138.6 877.0L1139.9 778.1L1140.6 745.3L1141.2 724.5L1141.9 712.3L1142.6 707.2L1142.9 707.1L1143.2 708.6L1144.2 723.4L1145.2 756.6L1147.2 898.3L1148.6 806.5L1149.2 774.9L1150.2 751.8L1150.6 749.2L1150.9 748.8L1151.2 750.7L1152.2 771.7L1152.9 803.3L1153.6 862.6L1154.2 992.7L1154.5 992.1L1155.2 849.0L1156.2 764.1L1156.9 733.7L1157.9 707.5L1158.5 699.2L1158.9 697.4L1159.2 697.1L1159.5 698.4L1160.5 711.4L1161.2 729.2L1162.5 800.6L1163.2 878.3L1163.9 1089.5L1164.5 889.6L1165.2 817.4L1166.2 769.8L1166.9 756.6L1167.2 753.9L1167.5 753.6L1168.2 760.1L1168.8 777.2L1169.8 830.7L1170.8 915.9L1172.8 762.5L1173.8 726.8L1174.5 714.0L1175.2 708.2L1175.5 707.6L1175.8 708.7L1176.5 715.7L1177.2 730.0L1177.8 753.4L1179.8 890.6L1180.2 882.9L1181.5 777.6L1182.1 749.9L1183.1 728.2L1183.8 723.8L1184.1 724.3L1184.5 726.5L1185.5 744.6L1186.5 783.7L1187.8 869.6L1188.1 873.2L1190.1 764.5L1191.1 741.6L1191.8 737.1L1192.1 737.7L1192.5 740.4L1193.5 761.9L1194.1 791.1L1195.4 915.1L1195.8 925.1L1196.8 813.4L1197.8 751.5L1198.4 727.9L1199.4 708.5L1200.1 704.1L1200.4 704.2L1200.8 705.8L1201.1 708.9L1201.8 720.2L1202.4 739.3L1203.4 789.4L1204.1 849.9L1205.1 997.4L1205.8 875.0L1206.4 815.6L1207.4 774.7L1208.1 764.5L1208.4 763.3L1208.7 764.7L1209.7 785.0L1210.7 842.7L1211.4 937.5L1211.7 1027.2L1212.7 851.5L1213.4 790.0L1214.7 729.1L1215.4 714.1L1215.7 709.3L1216.4 704.5L1216.7 704.4L1217.1 705.7L1217.7 713.2L1218.4 727.7L1219.1 750.8L1220.1 811.3L1221.0 926.0L1221.4 930.4L1222.7 800.1L1223.7 759.6L1224.0 752.3L1224.7 744.7L1225.0 744.1L1225.4 745.5L1225.7 748.9L1226.7 772.9L1228.7 883.8L1229.0 874.8L1230.0 803.1L1231.0 755.7L1231.7 737.7L1232.4 727.8L1232.7 725.6L1233.0 725.1L1233.7 729.3L1234.7 750.1L1235.3 776.4L1236.7 873.6L1237.0 881.4L1237.3 879.8L1238.3 798.7L1239.3 749.1L1240.0 730.3L1240.7 719.6L1241.3 715.8L1241.7 716.3L1242.0 718.5L1243.0 735.2L1244.0 771.2L1244.7 811.7L1245.7 904.9L1246.0 914.8L1247.0 833.1L1248.0 781.9L1249.0 761.2L1249.3 759.3L1249.6 759.6L1250.0 762.3L1251.0 786.5L1252.0 849.2L1253.0 1019.2L1253.6 885.1L1254.6 784.8L1256.0 728.0L1256.6 714.1L1257.3 707.1L1257.6 705.8L1258.0 706.1L1258.3 707.8L1259.0 715.9L1260.0 741.7L1260.6 771.4L1261.6 853.2L1262.3 987.8L1262.6 1006.0L1263.6 845.2L1264.6 786.8L1265.6 765.4L1265.9 763.6L1266.3 764.2L1266.6 767.1L1267.6 792.0L1268.6 852.3L1269.3 920.4L1269.6 931.3L1270.6 829.6L1271.6 766.1L1272.6 733.0L1273.3 721.4L1273.9 716.7L1274.2 716.7L1274.6 718.3L1275.2 726.4L1276.2 753.0L1277.2 804.4L1277.9 858.7L1278.2 871.6L1278.6 872.7L1278.9 869.8L1279.9 796.9L1280.6 765.6L1281.2 746.1L1281.9 735.6L1282.2 733.2L1282.6 732.6L1283.2 736.7L1284.2 757.1L1285.2 799.6L1286.6 887.1L1286.9 883.7L1287.9 816.4L1288.9 770.8L1289.9 750.0L1290.2 747.4L1290.5 746.7L1290.9 748.0L1291.5 756.9L1292.2 775.3L1293.2 829.5L1293.9 892.2L1294.2 897.2L1294.5 897.2L1295.5 809.7L1296.5 754.2L1297.2 732.7L1297.9 719.5L1298.5 713.2L1298.9 712.3L1299.2 712.9L1300.2 724.2L1300.8 740.5L1302.2 806.0L1302.8 875.7L1303.5 1036.5L1303.8 1009.1L1304.5 874.5L1305.5 803.3L1306.2 782.6L1306.8 774.1L1307.2 773.8L1307.5 776.1L1307.8 780.9L1308.5 800.0L1309.5 866.2L1309.8 923.6L1310.5 1179.7L1310.8 998.9L1311.5 845.5L1312.2 790.2L1313.2 744.0L1314.2 720.6L1314.5 716.4L1315.1 712.7L1315.5 713.1L1315.8 715.0L1316.5 723.5L1317.8 763.8L1318.5 801.3L1319.8 914.5L1320.1 914.5L1321.5 801.7L1322.1 774.4L1323.1 755.1L1323.5 753.2L1323.8 753.4L1324.1 755.6L1325.1 775.2L1326.1 820.0L1327.1 890.7L1327.5 896.8L1328.8 805.7L1329.8 761.1L1330.8 739.2L1331.4 734.2L1331.8 734.2L1332.1 736.0L1333.1 752.5L1333.8 774.7L1335.4 881.8L1335.8 887.2L1337.1 797.3L1338.1 752.7L1339.1 730.3L1339.8 724.5L1340.1 724.0L1340.4 725.2L1341.1 732.3L1341.7 746.6L1342.7 785.6L1343.4 829.6L1344.4 928.5L1344.7 927.0L1346.1 816.2L1347.1 779.8L1347.7 858.3L1348.1 964.9L1348.4 858.3L1349.1 779.8L1350.1 817.8L1350.7 871.1L1351.4 956.9L1351.7 958.8L1352.7 834.4L1353.7 767.3L1354.4 742.0L1355.4 720.4L1356.0 714.5L1356.4 713.8L1356.7 714.6L1357.0 716.8L1358.0 733.2L1358.7 753.8L1359.4 785.4L1360.0 835.5L1360.7 953.6L1361.0 1065.6L1362.4 844.5L1363.4 792.3L1363.7 783.4L1364.4 774.0L1364.7 773.0L1365.0 774.5L1365.4 778.3L1366.4 806.9L1367.0 845.9L1368.0 945.9L1368.3 938.1L1369.0 859.2L1370.0 785.1L1371.0 746.8L1371.7 732.8L1372.3 725.9L1372.7 724.9L1373.0 725.4L1373.7 731.2L1374.7 753.4L1375.7 797.2L1376.7 869.8L1377.0 878.3L1377.3 877.9L1377.7 864.6L1378.7 797.0L1379.7 759.1L1380.7 742.7L1381.0 741.0L1381.3 741.0L1382.0 746.5L1383.0 769.3L1383.6 796.8L1385.3 914.5L1387.0 802.2L1388.0 768.3L1388.3 762.1L1389.0 756.1L1389.3 756.1L1389.6 758.0L1390.0 762.0L1391.0 788.4L1391.6 822.1L1392.6 904.0L1393.0 906.1L1393.3 894.2L1394.3 806.9L1395.3 756.9L1395.9 737.4L1396.6 725.7L1397.3 720.5L1397.6 720.2L1397.9 721.4L1398.9 734.3L1399.6 752.0L1400.9 822.6L1401.6 897.9L1402.3 1072.3L1402.9 917.4L1403.9 824.0L1404.6 797.8L1405.3 785.6L1405.6 783.6L1405.9 784.1L1406.3 787.3L1406.9 802.3L1407.9 856.8L1408.2 901.1L1408.9 1128.0L1409.2 1079.4L1409.6 945.9L1410.2 840.4L1410.9 790.6L1411.6 759.3L1412.6 732.1L1413.6 721.1L1413.9 720.5L1414.2 721.4L1414.9 727.8L1415.6 740.8L1416.2 761.9L1417.2 815.5L1418.2 907.3L1418.6 918.4L1420.2 803.4L1420.9 779.1L1421.9 762.7L1422.2 761.5L1422.5 762.5L1422.9 765.4L1423.9 787.8L1424.5 816.9L1425.5 888.5L1425.9 905.1L1426.2 904.7L1427.9 791.1L1428.5 766.2L1429.5 746.3L1430.2 742.4L1430.5 743.0L1430.9 745.3L1431.9 763.7L1432.9 803.4L1434.2 885.4L1434.5 882.8L1435.8 796.5L1436.8 756.2L1437.8 736.3L1438.5 731.8L1438.8 732.0L1439.2 733.7L1439.8 742.0L1440.5 757.8L1441.5 800.0L1443.2 952.9L1444.8 820.7L1445.5 795.0L1445.8 787.0L1446.5 779.0L1446.8 778.6L1447.2 780.5L1447.5 784.9L1448.1 802.1L1449.1 859.0L1449.8 938.6L1450.1 945.8L1450.5 941.6L1451.5 829.3L1452.5 769.0L1453.8 731.1L1454.5 723.3L1454.8 721.6L1455.1 721.5L1455.5 722.7L1456.1 729.8L1456.8 743.6L1458.1 799.2L1459.1 893.0L1459.8 1003.3L1461.1 844.4L1461.8 808.8L1462.8 784.8L1463.1 782.4L1463.4 782.3L1464.1 789.5L1465.1 822.0L1465.8 866.1L1466.8 974.1L1467.8 856.0L1468.4 805.1L1469.4 761.0L1470.1 744.4L1470.8 735.3L1471.1 733.2L1471.4 732.7L1472.1 736.4L1472.8 746.6L1473.4 764.5L1475.7 888.0L1476.1 878.9L1477.4 797.4L1478.1 772.3L1478.7 756.9L1479.4 749.5L1479.7 748.5L1480.1 749.3L1480.7 756.1L1481.4 770.6L1482.1 794.7L1483.7 905.2L1484.1 905.2L1484.4 895.8L1485.4 823.0L1486.4 782.6L1487.4 765.9L1487.7 764.5L1488.0 765.1L1488.4 767.7L1489.0 779.4L1489.7 801.3L1491.4 906.6L1491.7 906.3L1493.0 804.8L1494.0 759.5L1495.0 735.9L1495.7 728.8L1496.0 727.5L1496.4 727.8L1497.0 732.8L1497.4 737.6L1498.0 752.7L1499.4 813.3L1500.0 874.1L1501.0 1059.0L1501.7 912.5L1502.7 828.1L1503.3 804.4L1504.0 794.0L1504.3 792.9L1504.7 794.3L1505.0 798.5L1505.7 816.0L1506.3 850.4L1507.0 920.0L1507.7 1129.3L1508.3 918.0L1509.0 836.3L1510.3 762.4L1511.3 737.4L1511.7 732.8L1512.3 728.2L1512.7 728.1L1513.0 729.5L1513.7 736.9L1515.0 773.3L1516.0 829.1L1517.0 911.9L1517.3 913.4L1518.3 841.0L1519.3 793.0L1520.3 772.4L1520.6 770.0L1521.0 769.7L1521.6 775.1L1522.6 800.4L1523.3 832.5L1524.6 939.7L1526.3 810.3L1527.0 781.4L1527.9 757.2L1528.6 750.9L1528.9 750.4L1529.3 751.5L1530.3 765.8L1531.3 799.3L1532.6 876.7L1532.9 885.3L1533.3 876.4L1534.6 796.0L1535.6 759.7L1536.6 742.2L1536.9 739.8L1537.3 738.9L1537.6 739.7L1537.9 742.0L1538.9 759.1L1539.9 795.8L1540.9 867.0L1541.6 948.2L1541.9 960.9L1542.9 866.9L1543.6 825.0L1544.2 801.2L1544.6 794.1L1545.2 787.7L1545.6 788.0L1545.9 790.8L1546.2 796.0L1546.9 815.4L1547.9 878.1L1548.6 951.9L1548.9 954.7L1549.2 937.2L1550.2 825.2L1551.2 770.8L1551.9 749.6L1552.6 736.3L1553.2 729.6L1553.5 728.5L1553.9 728.9L1554.2 730.7L1554.9 738.8L1555.5 753.7L1556.9 812.7L1557.5 869.1L1558.5 1033.8L1559.5 869.2L1560.5 812.9L1561.5 792.2L1561.9 790.6L1562.2 791.5L1562.9 800.6L1563.9 837.5L1564.5 887.6L1565.5 1006.0L1566.2 891.5L1566.8 826.7L1568.2 765.0L1568.8 749.8L1569.5 741.9L1569.8 740.3L1570.2 740.3L1570.8 745.0L1571.8 764.7L1572.8 803.7L1574.2 881.9L1574.5 885.0L1575.8 813.5L1576.8 775.6L1577.8 758.3L1578.2 756.2L1578.5 755.9L1579.2 760.5L1580.1 781.7L1580.8 807.9L1582.5 935.7L1582.8 927.3L1584.1 826.0L1584.8 797.8L1585.5 781.1L1586.1 773.5L1586.5 772.8L1586.8 774.0L1587.8 790.4L1588.8 830.5L1590.1 910.0L1590.5 898.7L1591.8 803.3L1592.5 773.3L1593.4 746.2L1594.1 737.2L1594.4 735.1L1594.8 734.4L1595.1 735.2L1595.4 737.4L1595.8 741.2L1596.8 763.0L1597.8 806.0L1598.4 856.3L1599.1 965.2L1599.8 1166.4L1600.4 920.0L1600.8 873.6L1601.4 832.2L1602.1 810.8L1602.4 805.2L1602.8 802.3L1603.1 802.1L1603.8 809.7L1604.1 818.0L1604.8 846.4L1605.4 901.7L1605.8 955.5L1606.4 1142.5L1606.7 976.6L1607.1 906.4L1607.7 832.8L1609.1 765.4L1610.1 742.6L1610.4 738.6L1611.1 735.0L1611.4 735.5L1611.7 737.3L1612.4 745.7L1613.4 771.5L1614.4 819.1L1615.7 907.3L1616.1 906.5L1617.1 839.1L1618.1 796.5L1619.1 778.8L1619.4 777.2L1619.7 777.7L1620.4 784.8L1621.0 800.9L1621.7 828.7L1623.0 931.0L1623.4 939.7L1625.0 812.5L1625.7 785.4L1626.7 763.3L1627.4 758.1L1627.7 758.1L1628.0 759.8L1629.0 775.7L1630.0 811.0L1631.4 881.0L1631.7 882.7L1633.0 811.7L1634.0 771.8L1635.0 751.3L1635.7 746.1L1636.0 745.9L1636.3 747.2L1637.0 754.6L1637.7 769.2L1638.7 808.8L1639.3 854.3L1640.3 964.9L1640.7 964.9L1641.7 868.4L1642.3 829.2L1643.0 807.4L1643.3 801.2L1643.7 797.5L1644.0 796.2L1644.3 797.4L1644.7 800.9L1645.0 807.1L1645.7 828.7L1646.3 867.7L1647.3 958.3L1647.6 956.9L1648.6 846.9L1649.6 785.8L1651.0 746.5L1651.6 737.9L1652.0 735.8L1652.3 735.3L1652.6 736.1L1653.3 742.2L1654.0 754.6L1655.3 805.2L1656.3 885.0L1657.0 973.3L1657.3 975.9L1658.3 867.0L1659.3 817.1L1659.6 808.5L1660.3 799.6L1660.6 798.9L1660.9 800.6L1661.6 811.8L1662.3 835.3L1662.9 877.8L1663.9 1061.7L1665.3 850.3L1666.6 778.9L1667.3 761.0L1667.9 750.8L1668.6 747.2L1668.9 747.7L1669.3 749.7L1670.3 765.6L1671.3 799.0L1672.9 883.5L1673.2 881.0L1674.6 812.9L1675.6 779.0L1676.6 764.2L1676.9 762.8L1677.2 763.2L1677.9 769.1L1678.9 792.7L1679.6 821.2L1681.2 942.3L1682.9 828.9L1683.6 802.5L1684.2 787.3L1684.9 781.0L1685.2 780.9L1685.6 782.8L1686.5 801.2L1687.2 826.2L1688.5 904.3L1688.9 906.3L1690.2 820.1L1691.2 775.0L1691.9 756.8L1692.5 745.9L1693.2 741.2L1693.5 741.1L1693.9 742.4L1694.9 755.5L1695.5 773.2L1696.9 842.8L1697.5 916.6L1698.2 1097.5L1699.2 904.9L1699.8 852.1L1700.5 825.1L1701.2 812.6L1701.5 810.7L1701.8 811.4L1702.5 821.1L1703.2 844.2L1704.2 927.5L1704.8 1059.0L1705.2 1040.5L1705.8 892.2L1706.5 830.1L1707.8 768.3L1708.5 752.8L1709.5 742.2L1709.8 741.7L1710.2 742.6L1710.8 748.9L1711.5 761.5L1712.2 781.7L1713.2 830.9L1714.1 900.8L1714.5 909.9L1715.8 837.9L1716.8 800.1L1717.8 785.2L1718.1 784.4L1718.5 785.7L1719.1 794.4L1720.1 826.0L1720.8 864.9L1721.8 980.8L1723.5 832.1L1724.1 800.5L1725.1 773.9L1725.8 766.4L1726.1 765.2L1726.5 765.7L1727.4 777.7L1728.4 807.5L1730.1 882.5L1730.4 878.8L1731.8 810.4L1732.8 774.4L1733.8 756.2L1734.4 752.3L1734.8 752.7L1735.1 754.6L1735.8 763.2L1736.4 779.2L1737.4 822.0L1738.1 871.5L1739.1 995.4L1739.4 985.7L1740.4 869.9L1741.1 833.5L1741.7 813.6L1742.4 805.2L1742.7 804.7L1743.1 806.7L1744.1 828.4L1744.7 860.5L1746.1 970.4L1747.4 841.8L1748.4 786.7L1749.7 750.8L1750.4 743.4L1750.7 741.9L1751.1 741.8L1751.4 743.2L1752.1 750.2L1752.7 763.8L1754.0 817.2L1754.7 865.9L1755.7 1016.6L1756.7 890.9L1757.7 832.0L1758.4 813.9L1759.0 806.9L1759.4 807.1L1759.7 809.8L1760.4 823.1L1761.0 849.8L1761.7 898.1L1762.7 1074.9L1763.4 923.7L1764.0 848.0L1765.0 793.5L1765.7 772.7L1766.3 760.2L1767.0 754.5L1767.3 753.9L1767.7 754.9L1768.3 761.5L1769.0 774.8L1770.0 809.5L1771.3 877.1L1771.7 883.0L1772.0 876.6L1773.3 812.8L1774.3 782.5L1775.3 770.0L1775.7 769.3L1776.0 770.3L1776.7 777.6L1777.7 803.7L1778.3 834.7L1779.7 948.5L1780.0 960.9L1781.3 849.4L1782.0 817.9L1782.6 799.1L1783.3 789.9L1783.6 788.4L1784.0 788.9L1784.6 795.9L1785.0 802.7L1786.0 838.2L1787.3 906.2L1787.6 900.6L1789.6 788.0L1790.6 760.4L1791.3 750.8L1792.0 747.3L1792.3 747.6L1792.6 749.5L1793.0 752.8L1793.9 772.7L1794.9 812.4L1795.6 857.8L1796.3 941.8L1796.6 1029.0L1796.9 1226.1L1797.6 946.3L1798.3 874.6L1798.9 840.6L1799.6 823.8L1799.9 820.1L1800.3 819.1L1800.6 820.7L1800.9 825.2L1801.6 843.6L1802.6 910.4L1803.3 1040.4L1803.6 1040.4L1804.6 883.0L1805.3 827.9L1806.6 771.3L1807.2 757.2L1807.6 752.7L1808.2 748.3L1808.6 748.2L1808.9 749.6L1809.6 756.8L1810.6 780.0L1811.6 822.4L1812.9 903.6L1813.2 906.0L1814.6 837.3L1815.6 803.8L1816.2 793.6L1816.6 791.6L1816.9 791.6L1817.6 797.7L1817.9 804.0L1818.6 824.3L1819.2 858.1L1820.5 987.4L1821.5 878.8L1822.2 833.1L1823.2 793.2L1824.2 775.1L1824.5 772.8L1824.9 772.1L1825.2 773.2L1826.2 786.7L1827.2 817.9L1828.5 878.2L1828.9 881.9L1829.2 874.4L1830.5 809.6L1831.5 777.1L1832.2 764.8L1832.8 759.1L1833.2 758.5L1833.5 759.4L1834.2 766.0L1835.2 789.2L1835.8 816.4L1836.5 858.9L1837.2 929.0L1837.8 943.6L1838.5 929.6L1839.2 871.5L1839.8 837.7L1840.8 815.1L1841.2 813.0L1841.5 813.3L1841.8 816.0L1842.5 829.4L1843.2 855.8L1844.5 961.3L1844.8 960.6L1845.8 862.4L1847.1 787.7L1847.8 767.6L1848.5 755.1L1849.1 748.8L1849.5 747.8L1849.8 748.3L1850.1 750.1L1850.8 758.2L1851.5 772.7L1852.8 828.9L1853.5 879.3L1854.5 1020.5L1855.5 887.0L1856.5 835.1L1857.1 819.4L1857.5 815.6L1857.8 814.3L1858.1 815.5L1858.8 825.4L1859.5 847.5L1860.1 888.1L1860.4 943.9L1861.1 1181.0L1862.1 906.8L1862.8 846.1L1863.4 809.0L1864.1 785.0L1865.1 765.3L1865.8 760.6L1866.1 760.5L1866.4 762.0L1867.4 775.8L1868.4 805.5L1869.8 868.7L1870.1 879.8L1870.4 881.1L1872.1 813.1L1873.1 786.0L1873.7 777.5L1874.1 775.8L1874.4 775.8L1875.1 780.9L1875.4 786.1L1876.4 814.8L1877.1 848.5L1878.4 982.1L1878.7 969.7L1880.1 851.1L1880.7 821.7L1881.4 804.5L1881.7 799.5L1882.1 796.6L1882.4 795.7L1882.7 796.8L1883.1 799.9L1883.4 805.1L1884.4 834.7L1885.7 901.0L1886.0 904.9L1887.7 816.0L1888.7 778.8L1889.7 759.0L1890.4 753.7L1890.7 753.2L1891.0 754.1L1892.0 765.8L1893.0 793.3L1894.4 872.8L1895.0 974.8L1895.7 1194.3L1896.4 948.6L1896.7 900.5L1897.4 857.9L1898.0 836.1L1898.7 827.6L1899.0 827.5L1899.3 830.2L1900.0 844.5L1901.0 898.7L1902.0 1025.9L1902.3 1025.9L1903.0 912.9L1903.7 847.9L1904.7 794.9L1905.3 774.3L1906.0 761.6"/>
</g>
<text transform="translate(241.30 1368.40) scale(1.09 1)" text-anchor="middle" font-size="56.5" fill="#262626">0</text>
<text transform="translate(573.80 1368.40) scale(1.09 1)" text-anchor="middle" font-size="56.5" fill="#262626">2</text>
<text transform="translate(906.30 1368.40) scale(1.09 1)" text-anchor="middle" font-size="56.5" fill="#262626">4</text>
<text transform="translate(1238.80 1368.40) scale(1.09 1)" text-anchor="middle" font-size="56.5" fill="#262626">6</text>
<text transform="translate(1571.30 1368.40) scale(1.09 1)" text-anchor="middle" font-size="56.5" fill="#262626">8</text>
<text transform="translate(1905.10 1368.40) scale(1.09 1)" text-anchor="middle" font-size="56.5" fill="#262626">10</text>
<text transform="translate(219.50 117.50) scale(1.09 1)" text-anchor="end" font-size="56.5" fill="#262626">10</text>
<text transform="translate(219.50 250.10) scale(1.09 1)" text-anchor="end" font-size="56.5" fill="#262626">20</text>
<text transform="translate(219.50 382.70) scale(1.09 1)" text-anchor="end" font-size="56.5" fill="#262626">30</text>
<text transform="translate(219.50 515.30) scale(1.09 1)" text-anchor="end" font-size="56.5" fill="#262626">40</text>
<text transform="translate(219.50 647.90) scale(1.09 1)" text-anchor="end" font-size="56.5" fill="#262626">50</text>
<text transform="translate(219.50 780.50) scale(1.09 1)" text-anchor="end" font-size="56.5" fill="#262626">60</text>
<text transform="translate(219.50 913.10) scale(1.09 1)" text-anchor="end" font-size="56.5" fill="#262626">70</text>
<text transform="translate(219.50 1045.70) scale(1.09 1)" text-anchor="end" font-size="56.5" fill="#262626">80</text>
<text transform="translate(219.50 1178.30) scale(1.09 1)" text-anchor="end" font-size="56.5" fill="#262626">90</text>
<text transform="translate(219.50 1310.90) scale(1.09 1)" text-anchor="end" font-size="56.5" fill="#262626">100</text>
<text transform="translate(1082.00 72.80) scale(1.09 1)" text-anchor="middle" font-size="56.5" fill="#000">TL at 200 Hz Frequency, Sd=5m</text>
<text transform="translate(1075.00 1446.20) scale(1.09 1)" text-anchor="middle" font-size="56.5" fill="#262626">Range (km)</text>
<text transform="translate(86.00 692.00) scale(1.09 1) rotate(-90)" text-anchor="middle" font-size="56.5" fill="#262626">Transmission Loss (dB)</text>
<rect x="1067.6" y="131.8" width="798.6000000000001" height="212.8" fill="#fff" stroke="#3a3a3a" stroke-width="3"/>
<path d="M1082.2 171.0H1236" stroke="#00ff00" stroke-width="8" fill="none"/>
<text transform="translate(1247.50 192.20) scale(1.142 1)" text-anchor="start" font-size="48.3" fill="#000">Receiver depth at 8 m</text>
<path d="M1082.2 238.6H1236" stroke="#0000ff" stroke-width="8" stroke-dasharray="24.8 24.4" fill="none"/>
<text transform="translate(1247.50 259.50) scale(1.142 1)" text-anchor="start" font-size="48.3" fill="#000">Receiver depth at 12 m</text>
<path d="M1082.2 305.4H1236" stroke="#ff0000" stroke-width="8" stroke-dasharray="24.8 6.4 11.6 6.6" fill="none"/>
<text transform="translate(1247.50 326.70) scale(1.142 1)" text-anchor="start" font-size="48.3" fill="#000">Receiver depth at 19 m</text>
</svg>
</body></html>
